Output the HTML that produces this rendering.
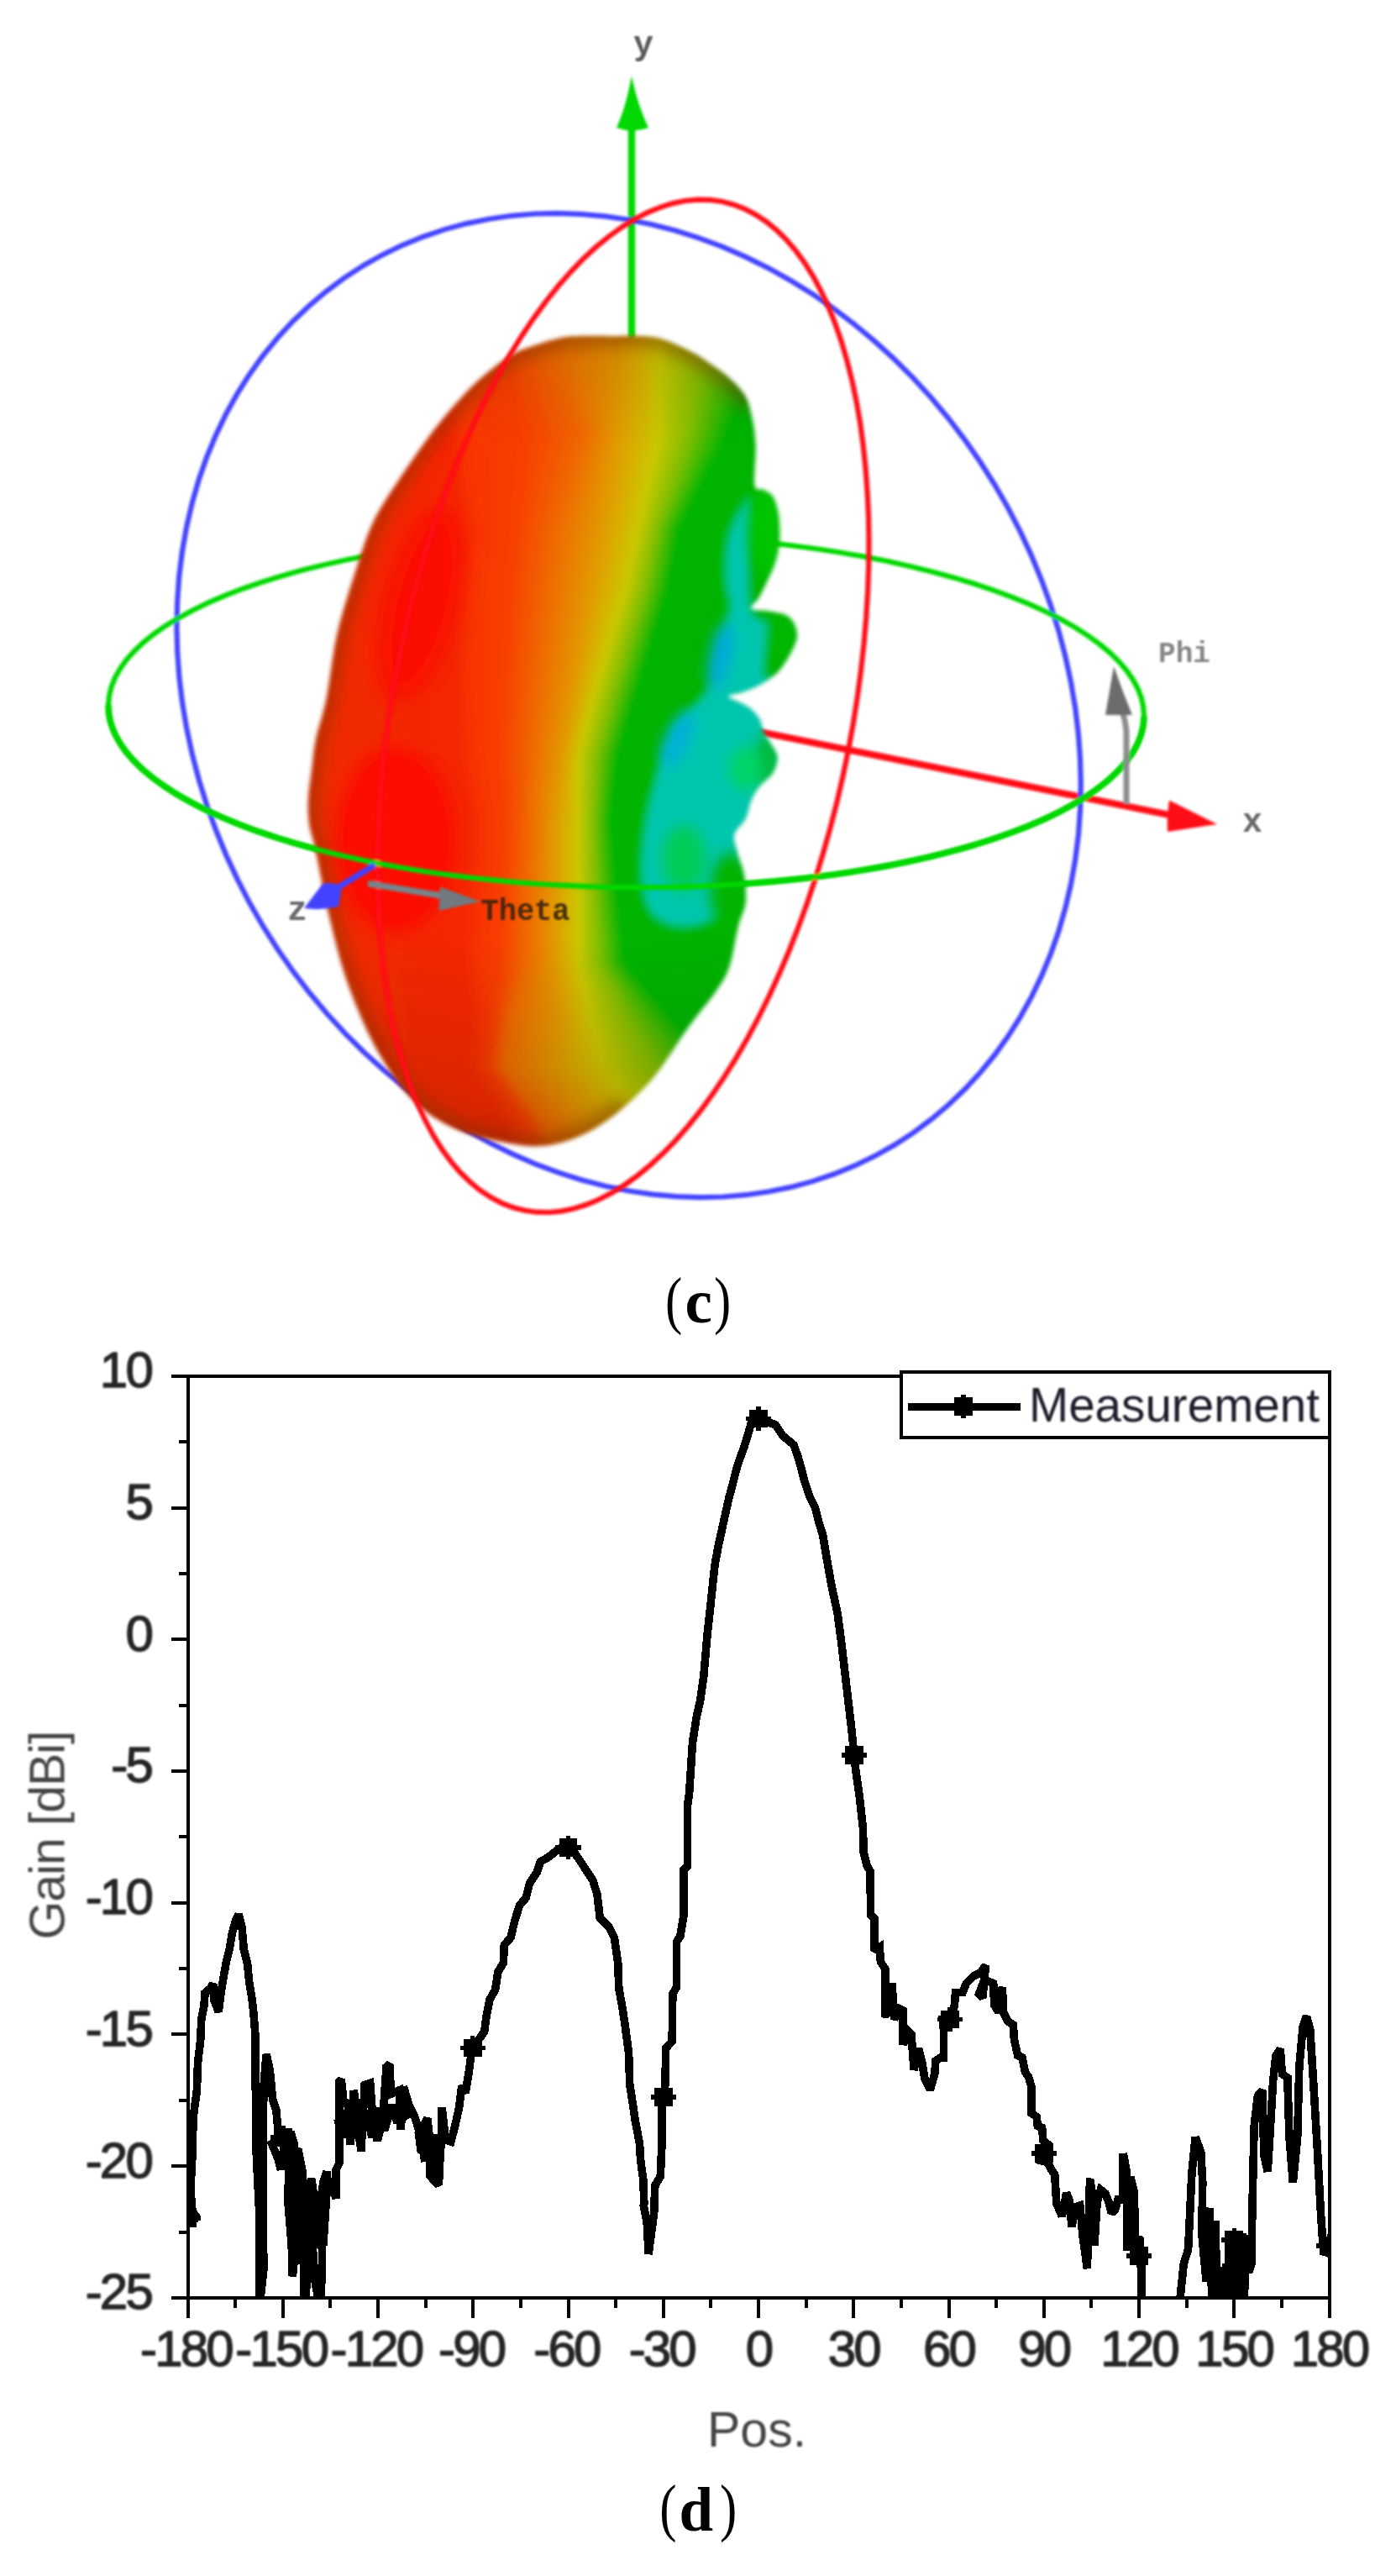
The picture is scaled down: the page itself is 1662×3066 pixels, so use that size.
<!DOCTYPE html><html><head><meta charset="utf-8"><title>Figure</title>
<style>html,body{margin:0;padding:0;background:#fff}body{width:1662px;height:3066px;overflow:hidden}svg{display:block}text{font-family:"Liberation Sans",Arial,sans-serif}</style></head><body>
<svg width="1662" height="3066" viewBox="0 0 1662 3066">
<rect width="1662" height="3066" fill="#fff"/>
<defs><linearGradient id="shT" x1="0" y1="0" x2="0" y2="1"><stop offset="0" stop-color="#402000" stop-opacity="0.13"/><stop offset="1" stop-color="#402000" stop-opacity="0"/></linearGradient><linearGradient id="shB" x1="0" y1="0" x2="0" y2="1"><stop offset="0" stop-color="#402000" stop-opacity="0"/><stop offset="1" stop-color="#402000" stop-opacity="0.2"/></linearGradient><clipPath id="bc"><path d="M725,400 C719.4,400 699.1,399.7 690,400 C680.9,400.3 676,400.4 668,402 C660,403.6 649.6,406.6 640,410 C630.4,413.4 620,415.5 608,423 C596,430.5 578.8,443.9 565,457 C551.2,470.1 535.8,487.7 522,505 C508.2,522.3 491.4,546.4 479,565 C466.6,583.6 453.5,602.4 444.5,621 C435.5,639.6 429.9,659.7 423,681 C416.1,702.3 407,730 401.5,754 C396,778 392.8,810.8 388.7,831 C384.6,851.2 378.8,866.2 376,880 C373.2,893.8 372.4,905.8 371,917 C369.6,928.2 367.5,939.9 367,950 C366.5,960.1 366.7,970.6 368,980 C369.3,989.4 371,990.6 375,1009 C379,1027.4 386.7,1068.9 393,1095 C399.3,1121.1 405.5,1147.2 414.5,1172 C423.5,1196.8 436.6,1227.9 449,1250 C461.4,1272.1 477,1295 492,1310 C507,1325 524.4,1335.8 543,1344 C561.6,1352.2 590.7,1357.9 608,1361 C625.3,1364.1 637.2,1365.2 651,1363.5 C664.8,1361.8 680.2,1357.1 694,1350.6 C707.8,1344.1 723.2,1334 737,1322.7 C750.8,1311.4 767,1295.8 780,1280 C793,1264.2 806.8,1240.2 818.5,1224 C830.2,1207.8 845,1190.8 853,1179 C861,1167.2 864.3,1162.3 868.5,1150 C872.7,1137.7 876,1114 879,1102 C882,1090 886.4,1084.6 887.5,1075 C888.6,1065.4 887.5,1051.6 886,1042 C884.5,1032.4 879.9,1022.8 878,1015 C876.1,1007.2 872.5,1000 874,993.5 C875.5,987 884.3,981 887.5,974.5 C890.7,968 891.7,958.8 894.3,952.7 C896.9,946.6 899.7,941.6 903.8,936.4 C907.9,931.2 916.5,925.7 920,920 C923.5,914.3 925.9,906.6 925.5,901 C925.1,895.4 920,889.6 917.4,884.8 C914.8,880 911.2,875.8 909,871 C906.8,866.2 906.8,859.8 903.8,855 C900.8,850.2 895.9,845.2 890,841 C884.1,836.8 867.8,831.8 867,829 C866.2,826.2 878.5,826 884.8,823.6 C891.1,821.2 900,817.7 906.5,814 C913,810.3 920.3,805.7 925.5,800.5 C930.7,795.3 935.3,788 939,781.5 C942.7,775 947.5,765.9 948.6,759.8 C949.7,753.7 948,747.9 946,743.5 C944,739.1 941,735.1 936.4,732.6 C931.8,730.1 924.1,729 917.4,727.7 C910.7,726.4 896.5,727.2 894.3,724.5 C892.1,721.8 900.5,716.7 903.8,711 C907.1,705.3 911.7,695.6 914.7,689 C917.7,682.4 920.7,676.9 922.8,670 C924.9,663.1 927.3,654.7 928,645.6 C928.7,636.5 928.3,621.7 927,613 C925.7,604.3 922.9,595.8 920,591 C917.1,586.2 912.5,585.1 909,583 C905.5,580.9 899.9,585.9 898.4,577.7 C896.9,569.5 900.1,544.1 899.7,531.5 C899.3,518.9 897.7,508.6 895.7,499 C893.7,489.4 891.9,479.5 887.5,471.7 C883.1,463.9 874.5,455.7 868.5,450 C862.5,444.3 857.3,441 850,436 C842.7,431 834.2,424.2 823,418.7 C811.8,413.2 795.7,404.5 780,401.5 C764.3,398.5 733.8,400.2 725,400 C716.2,399.8 730.6,400 725,400Z"/></clipPath><filter id="b1" x="-5%" y="-5%" width="110%" height="110%"><feGaussianBlur stdDeviation="1.6"/></filter><filter id="b2" x="-10%" y="-10%" width="120%" height="120%"><feGaussianBlur stdDeviation="2.5"/></filter><filter id="b8" x="-30%" y="-30%" width="160%" height="160%"><feGaussianBlur stdDeviation="8"/></filter><filter id="b12" x="-30%" y="-30%" width="160%" height="160%"><feGaussianBlur stdDeviation="12"/></filter><filter id="b5" x="-30%" y="-30%" width="160%" height="160%"><feGaussianBlur stdDeviation="5"/></filter><filter id="bt" x="-10%" y="-30%" width="120%" height="160%"><feGaussianBlur stdDeviation="0.8"/></filter><linearGradient id="r0" gradientUnits="userSpaceOnUse" x1="260.8" y1="0" x2="1124.6" y2="0"><stop offset="0.000" stop-color="#ee3206"/><stop offset="0.287" stop-color="#f52600"/><stop offset="0.315" stop-color="#f83600"/><stop offset="0.387" stop-color="#f84000"/><stop offset="0.457" stop-color="#f06800"/><stop offset="0.551" stop-color="#e29800"/><stop offset="0.578" stop-color="#d8b000"/><stop offset="0.606" stop-color="#c8c800"/><stop offset="0.669" stop-color="#80be00"/><stop offset="0.745" stop-color="#00b400"/><stop offset="1.000" stop-color="#00b200"/></linearGradient><linearGradient id="r1" gradientUnits="userSpaceOnUse" x1="262.3" y1="0" x2="1123.8" y2="0"><stop offset="0.000" stop-color="#ee3206"/><stop offset="0.288" stop-color="#f52600"/><stop offset="0.316" stop-color="#f83600"/><stop offset="0.387" stop-color="#f84000"/><stop offset="0.457" stop-color="#f06800"/><stop offset="0.551" stop-color="#e29800"/><stop offset="0.578" stop-color="#d8b000"/><stop offset="0.606" stop-color="#c8c800"/><stop offset="0.668" stop-color="#80be00"/><stop offset="0.745" stop-color="#00b400"/><stop offset="1.000" stop-color="#00b200"/></linearGradient><linearGradient id="r2" gradientUnits="userSpaceOnUse" x1="263.8" y1="0" x2="1123.1" y2="0"><stop offset="0.000" stop-color="#ee3206"/><stop offset="0.289" stop-color="#f52600"/><stop offset="0.317" stop-color="#f83600"/><stop offset="0.388" stop-color="#f84000"/><stop offset="0.457" stop-color="#f06800"/><stop offset="0.551" stop-color="#e29800"/><stop offset="0.578" stop-color="#d8b000"/><stop offset="0.605" stop-color="#c8c800"/><stop offset="0.668" stop-color="#80be00"/><stop offset="0.744" stop-color="#00b400"/><stop offset="1.000" stop-color="#00b200"/></linearGradient><linearGradient id="r3" gradientUnits="userSpaceOnUse" x1="265.4" y1="0" x2="1122.3" y2="0"><stop offset="0.000" stop-color="#ee3206"/><stop offset="0.289" stop-color="#f52600"/><stop offset="0.317" stop-color="#f83600"/><stop offset="0.388" stop-color="#f84000"/><stop offset="0.458" stop-color="#f06800"/><stop offset="0.550" stop-color="#e29800"/><stop offset="0.578" stop-color="#d8b000"/><stop offset="0.605" stop-color="#c8c800"/><stop offset="0.667" stop-color="#80be00"/><stop offset="0.743" stop-color="#00b400"/><stop offset="1.000" stop-color="#00b200"/></linearGradient><linearGradient id="r4" gradientUnits="userSpaceOnUse" x1="266.9" y1="0" x2="1121.5" y2="0"><stop offset="0.000" stop-color="#ee3206"/><stop offset="0.290" stop-color="#f52600"/><stop offset="0.318" stop-color="#f83600"/><stop offset="0.389" stop-color="#f84000"/><stop offset="0.458" stop-color="#f06800"/><stop offset="0.550" stop-color="#e29800"/><stop offset="0.578" stop-color="#d8b000"/><stop offset="0.605" stop-color="#c8c800"/><stop offset="0.667" stop-color="#80be00"/><stop offset="0.743" stop-color="#00b400"/><stop offset="1.000" stop-color="#00b200"/></linearGradient><linearGradient id="r5" gradientUnits="userSpaceOnUse" x1="268.5" y1="0" x2="1120.8" y2="0"><stop offset="0.000" stop-color="#ee3206"/><stop offset="0.291" stop-color="#f52600"/><stop offset="0.319" stop-color="#f83600"/><stop offset="0.389" stop-color="#f84000"/><stop offset="0.458" stop-color="#f06800"/><stop offset="0.550" stop-color="#e29800"/><stop offset="0.577" stop-color="#d8b000"/><stop offset="0.605" stop-color="#c8c800"/><stop offset="0.667" stop-color="#80be00"/><stop offset="0.742" stop-color="#00b400"/><stop offset="1.000" stop-color="#00b200"/></linearGradient><linearGradient id="r6" gradientUnits="userSpaceOnUse" x1="270" y1="0" x2="1120" y2="0"><stop offset="0.000" stop-color="#ee3206"/><stop offset="0.292" stop-color="#f52600"/><stop offset="0.320" stop-color="#f83600"/><stop offset="0.390" stop-color="#f84000"/><stop offset="0.459" stop-color="#f06800"/><stop offset="0.549" stop-color="#e29800"/><stop offset="0.577" stop-color="#d8b000"/><stop offset="0.605" stop-color="#c8c800"/><stop offset="0.666" stop-color="#80be00"/><stop offset="0.741" stop-color="#00b400"/><stop offset="1.000" stop-color="#00b200"/></linearGradient><linearGradient id="r7" gradientUnits="userSpaceOnUse" x1="271" y1="0" x2="1117.6" y2="0"><stop offset="0.000" stop-color="#ee3206"/><stop offset="0.293" stop-color="#f52600"/><stop offset="0.321" stop-color="#f83600"/><stop offset="0.392" stop-color="#f84000"/><stop offset="0.462" stop-color="#f06800"/><stop offset="0.550" stop-color="#e29800"/><stop offset="0.578" stop-color="#d8b000"/><stop offset="0.606" stop-color="#c8c800"/><stop offset="0.666" stop-color="#80be00"/><stop offset="0.740" stop-color="#00b400"/><stop offset="1.000" stop-color="#00b200"/></linearGradient><linearGradient id="r8" gradientUnits="userSpaceOnUse" x1="272.1" y1="0" x2="1115.3" y2="0"><stop offset="0.000" stop-color="#ee3206"/><stop offset="0.294" stop-color="#f52600"/><stop offset="0.323" stop-color="#f83600"/><stop offset="0.395" stop-color="#f84000"/><stop offset="0.466" stop-color="#f06800"/><stop offset="0.551" stop-color="#e29800"/><stop offset="0.579" stop-color="#d8b000"/><stop offset="0.607" stop-color="#c8c800"/><stop offset="0.667" stop-color="#80be00"/><stop offset="0.739" stop-color="#00b400"/><stop offset="1.000" stop-color="#00b200"/></linearGradient><linearGradient id="r9" gradientUnits="userSpaceOnUse" x1="273.1" y1="0" x2="1112.9" y2="0"><stop offset="0.000" stop-color="#ee3206"/><stop offset="0.295" stop-color="#f52600"/><stop offset="0.324" stop-color="#f83600"/><stop offset="0.397" stop-color="#f84000"/><stop offset="0.469" stop-color="#f06800"/><stop offset="0.551" stop-color="#e29800"/><stop offset="0.580" stop-color="#d8b000"/><stop offset="0.608" stop-color="#c8c800"/><stop offset="0.667" stop-color="#80be00"/><stop offset="0.738" stop-color="#00b400"/><stop offset="1.000" stop-color="#00b200"/></linearGradient><linearGradient id="r10" gradientUnits="userSpaceOnUse" x1="274.2" y1="0" x2="1110.5" y2="0"><stop offset="0.000" stop-color="#ee3206"/><stop offset="0.297" stop-color="#f52600"/><stop offset="0.325" stop-color="#f83600"/><stop offset="0.400" stop-color="#f84000"/><stop offset="0.473" stop-color="#f06800"/><stop offset="0.552" stop-color="#e29800"/><stop offset="0.581" stop-color="#d8b000"/><stop offset="0.610" stop-color="#c8c800"/><stop offset="0.667" stop-color="#80be00"/><stop offset="0.737" stop-color="#00b400"/><stop offset="1.000" stop-color="#00b200"/></linearGradient><linearGradient id="r11" gradientUnits="userSpaceOnUse" x1="275.2" y1="0" x2="1108.1" y2="0"><stop offset="0.000" stop-color="#ee3206"/><stop offset="0.298" stop-color="#f52600"/><stop offset="0.327" stop-color="#f83600"/><stop offset="0.402" stop-color="#f84000"/><stop offset="0.476" stop-color="#f06800"/><stop offset="0.553" stop-color="#e29800"/><stop offset="0.582" stop-color="#d8b000"/><stop offset="0.611" stop-color="#c8c800"/><stop offset="0.667" stop-color="#80be00"/><stop offset="0.736" stop-color="#00b400"/><stop offset="1.000" stop-color="#00b200"/></linearGradient><linearGradient id="r12" gradientUnits="userSpaceOnUse" x1="276.3" y1="0" x2="1105.8" y2="0"><stop offset="0.000" stop-color="#ee3206"/><stop offset="0.299" stop-color="#f52600"/><stop offset="0.328" stop-color="#f83600"/><stop offset="0.405" stop-color="#f84000"/><stop offset="0.480" stop-color="#f06800"/><stop offset="0.553" stop-color="#e29800"/><stop offset="0.583" stop-color="#d8b000"/><stop offset="0.612" stop-color="#c8c800"/><stop offset="0.667" stop-color="#80be00"/><stop offset="0.735" stop-color="#00b400"/><stop offset="1.000" stop-color="#00b200"/></linearGradient><linearGradient id="r13" gradientUnits="userSpaceOnUse" x1="277.3" y1="0" x2="1103.4" y2="0"><stop offset="0.000" stop-color="#ee3206"/><stop offset="0.300" stop-color="#f52600"/><stop offset="0.329" stop-color="#f83600"/><stop offset="0.407" stop-color="#f84000"/><stop offset="0.483" stop-color="#f06800"/><stop offset="0.554" stop-color="#e29800"/><stop offset="0.584" stop-color="#d8b000"/><stop offset="0.613" stop-color="#c8c800"/><stop offset="0.668" stop-color="#80be00"/><stop offset="0.734" stop-color="#00b400"/><stop offset="1.000" stop-color="#00b200"/></linearGradient><linearGradient id="r14" gradientUnits="userSpaceOnUse" x1="278.4" y1="0" x2="1101" y2="0"><stop offset="0.000" stop-color="#ee3206"/><stop offset="0.301" stop-color="#f52600"/><stop offset="0.331" stop-color="#f83600"/><stop offset="0.410" stop-color="#f84000"/><stop offset="0.487" stop-color="#f06800"/><stop offset="0.554" stop-color="#e29800"/><stop offset="0.585" stop-color="#d8b000"/><stop offset="0.615" stop-color="#c8c800"/><stop offset="0.668" stop-color="#80be00"/><stop offset="0.733" stop-color="#00b400"/><stop offset="1.000" stop-color="#00b200"/></linearGradient><linearGradient id="r15" gradientUnits="userSpaceOnUse" x1="279.4" y1="0" x2="1098.7" y2="0"><stop offset="0.000" stop-color="#ee3206"/><stop offset="0.303" stop-color="#f52600"/><stop offset="0.332" stop-color="#f83600"/><stop offset="0.413" stop-color="#f84000"/><stop offset="0.491" stop-color="#f06800"/><stop offset="0.555" stop-color="#e29800"/><stop offset="0.586" stop-color="#d8b000"/><stop offset="0.616" stop-color="#c8c800"/><stop offset="0.668" stop-color="#80be00"/><stop offset="0.731" stop-color="#00b400"/><stop offset="1.000" stop-color="#00b200"/></linearGradient><linearGradient id="r16" gradientUnits="userSpaceOnUse" x1="280.5" y1="0" x2="1096.3" y2="0"><stop offset="0.000" stop-color="#ee3206"/><stop offset="0.304" stop-color="#f52600"/><stop offset="0.333" stop-color="#f83600"/><stop offset="0.415" stop-color="#f84000"/><stop offset="0.494" stop-color="#f06800"/><stop offset="0.556" stop-color="#e29800"/><stop offset="0.586" stop-color="#d8b000"/><stop offset="0.617" stop-color="#c8c800"/><stop offset="0.668" stop-color="#80be00"/><stop offset="0.730" stop-color="#00b400"/><stop offset="1.000" stop-color="#00b200"/></linearGradient><linearGradient id="r17" gradientUnits="userSpaceOnUse" x1="281.5" y1="0" x2="1093.9" y2="0"><stop offset="0.000" stop-color="#ee3206"/><stop offset="0.305" stop-color="#f52600"/><stop offset="0.335" stop-color="#f83600"/><stop offset="0.418" stop-color="#f84000"/><stop offset="0.498" stop-color="#f06800"/><stop offset="0.556" stop-color="#e29800"/><stop offset="0.587" stop-color="#d8b000"/><stop offset="0.619" stop-color="#c8c800"/><stop offset="0.668" stop-color="#80be00"/><stop offset="0.729" stop-color="#00b400"/><stop offset="1.000" stop-color="#00b200"/></linearGradient><linearGradient id="r18" gradientUnits="userSpaceOnUse" x1="282.6" y1="0" x2="1091.5" y2="0"><stop offset="0.000" stop-color="#ee3206"/><stop offset="0.307" stop-color="#f52600"/><stop offset="0.336" stop-color="#f83600"/><stop offset="0.421" stop-color="#f84000"/><stop offset="0.502" stop-color="#f06800"/><stop offset="0.557" stop-color="#e29800"/><stop offset="0.588" stop-color="#d8b000"/><stop offset="0.620" stop-color="#c8c800"/><stop offset="0.669" stop-color="#80be00"/><stop offset="0.728" stop-color="#00b400"/><stop offset="1.000" stop-color="#00b200"/></linearGradient><linearGradient id="r19" gradientUnits="userSpaceOnUse" x1="283.6" y1="0" x2="1089.2" y2="0"><stop offset="0.000" stop-color="#ee3206"/><stop offset="0.308" stop-color="#f52600"/><stop offset="0.338" stop-color="#f83600"/><stop offset="0.423" stop-color="#f84000"/><stop offset="0.506" stop-color="#f06800"/><stop offset="0.558" stop-color="#e29800"/><stop offset="0.589" stop-color="#d8b000"/><stop offset="0.621" stop-color="#c8c800"/><stop offset="0.669" stop-color="#80be00"/><stop offset="0.727" stop-color="#00b400"/><stop offset="1.000" stop-color="#00b200"/></linearGradient><linearGradient id="r20" gradientUnits="userSpaceOnUse" x1="284.7" y1="0" x2="1086.8" y2="0"><stop offset="0.000" stop-color="#ee3206"/><stop offset="0.309" stop-color="#f52600"/><stop offset="0.339" stop-color="#f83600"/><stop offset="0.426" stop-color="#f84000"/><stop offset="0.509" stop-color="#f06800"/><stop offset="0.558" stop-color="#e29800"/><stop offset="0.590" stop-color="#d8b000"/><stop offset="0.623" stop-color="#c8c800"/><stop offset="0.669" stop-color="#80be00"/><stop offset="0.726" stop-color="#00b400"/><stop offset="1.000" stop-color="#00b200"/></linearGradient><linearGradient id="r21" gradientUnits="userSpaceOnUse" x1="285.5" y1="0" x2="1084" y2="0"><stop offset="0.000" stop-color="#ee3206"/><stop offset="0.311" stop-color="#f52600"/><stop offset="0.341" stop-color="#f83600"/><stop offset="0.427" stop-color="#f84000"/><stop offset="0.510" stop-color="#f06800"/><stop offset="0.559" stop-color="#e29800"/><stop offset="0.591" stop-color="#d8b000"/><stop offset="0.623" stop-color="#c8c800"/><stop offset="0.669" stop-color="#80be00"/><stop offset="0.724" stop-color="#00b400"/><stop offset="1.000" stop-color="#00b200"/></linearGradient><linearGradient id="r22" gradientUnits="userSpaceOnUse" x1="286.2" y1="0" x2="1081" y2="0"><stop offset="0.000" stop-color="#ee3206"/><stop offset="0.312" stop-color="#f52600"/><stop offset="0.342" stop-color="#f83600"/><stop offset="0.427" stop-color="#f84000"/><stop offset="0.509" stop-color="#f06800"/><stop offset="0.560" stop-color="#e29800"/><stop offset="0.592" stop-color="#d8b000"/><stop offset="0.624" stop-color="#c8c800"/><stop offset="0.668" stop-color="#80be00"/><stop offset="0.723" stop-color="#00b400"/><stop offset="1.000" stop-color="#00b200"/></linearGradient><linearGradient id="r23" gradientUnits="userSpaceOnUse" x1="287" y1="0" x2="1078" y2="0"><stop offset="0.000" stop-color="#ee3206"/><stop offset="0.314" stop-color="#f52600"/><stop offset="0.344" stop-color="#f83600"/><stop offset="0.427" stop-color="#f84000"/><stop offset="0.508" stop-color="#f06800"/><stop offset="0.560" stop-color="#e29800"/><stop offset="0.592" stop-color="#d8b000"/><stop offset="0.624" stop-color="#c8c800"/><stop offset="0.668" stop-color="#80be00"/><stop offset="0.722" stop-color="#00b400"/><stop offset="1.000" stop-color="#00b200"/></linearGradient><linearGradient id="r24" gradientUnits="userSpaceOnUse" x1="287.8" y1="0" x2="1075" y2="0"><stop offset="0.000" stop-color="#ee3206"/><stop offset="0.315" stop-color="#f52600"/><stop offset="0.346" stop-color="#f83600"/><stop offset="0.427" stop-color="#f84000"/><stop offset="0.507" stop-color="#f06800"/><stop offset="0.561" stop-color="#e29800"/><stop offset="0.593" stop-color="#d8b000"/><stop offset="0.624" stop-color="#c8c800"/><stop offset="0.668" stop-color="#80be00"/><stop offset="0.721" stop-color="#00b400"/><stop offset="1.000" stop-color="#00b200"/></linearGradient><linearGradient id="r25" gradientUnits="userSpaceOnUse" x1="288.5" y1="0" x2="1072" y2="0"><stop offset="0.000" stop-color="#ee3206"/><stop offset="0.317" stop-color="#f52600"/><stop offset="0.347" stop-color="#f83600"/><stop offset="0.428" stop-color="#f84000"/><stop offset="0.506" stop-color="#f06800"/><stop offset="0.561" stop-color="#e29800"/><stop offset="0.593" stop-color="#d8b000"/><stop offset="0.625" stop-color="#c8c800"/><stop offset="0.667" stop-color="#80be00"/><stop offset="0.719" stop-color="#00b400"/><stop offset="1.000" stop-color="#00b200"/></linearGradient><linearGradient id="r26" gradientUnits="userSpaceOnUse" x1="289.2" y1="0" x2="1069" y2="0"><stop offset="0.000" stop-color="#ee3206"/><stop offset="0.318" stop-color="#f52600"/><stop offset="0.349" stop-color="#f83600"/><stop offset="0.428" stop-color="#f84000"/><stop offset="0.505" stop-color="#f06800"/><stop offset="0.562" stop-color="#e29800"/><stop offset="0.593" stop-color="#d8b000"/><stop offset="0.625" stop-color="#c8c800"/><stop offset="0.667" stop-color="#80be00"/><stop offset="0.718" stop-color="#00b400"/><stop offset="1.000" stop-color="#00b200"/></linearGradient><linearGradient id="r27" gradientUnits="userSpaceOnUse" x1="290" y1="0" x2="1066" y2="0"><stop offset="0.000" stop-color="#ee3206"/><stop offset="0.320" stop-color="#f52600"/><stop offset="0.351" stop-color="#f83600"/><stop offset="0.428" stop-color="#f84000"/><stop offset="0.504" stop-color="#f06800"/><stop offset="0.562" stop-color="#e29800"/><stop offset="0.594" stop-color="#d8b000"/><stop offset="0.626" stop-color="#c8c800"/><stop offset="0.666" stop-color="#80be00"/><stop offset="0.716" stop-color="#00b400"/><stop offset="1.000" stop-color="#00b200"/></linearGradient><linearGradient id="r28" gradientUnits="userSpaceOnUse" x1="290.8" y1="0" x2="1063" y2="0"><stop offset="0.000" stop-color="#ee3206"/><stop offset="0.321" stop-color="#f52600"/><stop offset="0.352" stop-color="#f83600"/><stop offset="0.428" stop-color="#f84000"/><stop offset="0.503" stop-color="#f06800"/><stop offset="0.563" stop-color="#e29800"/><stop offset="0.594" stop-color="#d8b000"/><stop offset="0.626" stop-color="#c8c800"/><stop offset="0.666" stop-color="#80be00"/><stop offset="0.715" stop-color="#00b400"/><stop offset="1.000" stop-color="#00b200"/></linearGradient><linearGradient id="r29" gradientUnits="userSpaceOnUse" x1="291.5" y1="0" x2="1060" y2="0"><stop offset="0.000" stop-color="#ee3206"/><stop offset="0.323" stop-color="#f52600"/><stop offset="0.354" stop-color="#f83600"/><stop offset="0.428" stop-color="#f84000"/><stop offset="0.502" stop-color="#f06800"/><stop offset="0.564" stop-color="#e29800"/><stop offset="0.595" stop-color="#d8b000"/><stop offset="0.626" stop-color="#c8c800"/><stop offset="0.666" stop-color="#80be00"/><stop offset="0.714" stop-color="#00b400"/><stop offset="1.000" stop-color="#00b200"/></linearGradient><linearGradient id="r30" gradientUnits="userSpaceOnUse" x1="292.2" y1="0" x2="1057" y2="0"><stop offset="0.000" stop-color="#ee3206"/><stop offset="0.324" stop-color="#f52600"/><stop offset="0.356" stop-color="#f83600"/><stop offset="0.429" stop-color="#f84000"/><stop offset="0.501" stop-color="#f06800"/><stop offset="0.564" stop-color="#e29800"/><stop offset="0.595" stop-color="#d8b000"/><stop offset="0.627" stop-color="#c8c800"/><stop offset="0.665" stop-color="#80be00"/><stop offset="0.712" stop-color="#00b400"/><stop offset="1.000" stop-color="#00b200"/></linearGradient><linearGradient id="r31" gradientUnits="userSpaceOnUse" x1="293" y1="0" x2="1053.9" y2="0"><stop offset="0.000" stop-color="#ee3206"/><stop offset="0.326" stop-color="#f52600"/><stop offset="0.357" stop-color="#f83600"/><stop offset="0.429" stop-color="#f84000"/><stop offset="0.500" stop-color="#f06800"/><stop offset="0.565" stop-color="#e29800"/><stop offset="0.596" stop-color="#d8b000"/><stop offset="0.627" stop-color="#c8c800"/><stop offset="0.665" stop-color="#80be00"/><stop offset="0.711" stop-color="#00b400"/><stop offset="1.000" stop-color="#00b200"/></linearGradient><linearGradient id="r32" gradientUnits="userSpaceOnUse" x1="293.7" y1="0" x2="1050.7" y2="0"><stop offset="0.000" stop-color="#ee3206"/><stop offset="0.328" stop-color="#f52600"/><stop offset="0.359" stop-color="#f83600"/><stop offset="0.429" stop-color="#f84000"/><stop offset="0.500" stop-color="#f06800"/><stop offset="0.565" stop-color="#e29800"/><stop offset="0.597" stop-color="#d8b000"/><stop offset="0.628" stop-color="#c8c800"/><stop offset="0.665" stop-color="#80be00"/><stop offset="0.709" stop-color="#00b400"/><stop offset="1.000" stop-color="#00b200"/></linearGradient><linearGradient id="r33" gradientUnits="userSpaceOnUse" x1="294.4" y1="0" x2="1047.6" y2="0"><stop offset="0.000" stop-color="#ee3206"/><stop offset="0.329" stop-color="#f52600"/><stop offset="0.361" stop-color="#f83600"/><stop offset="0.430" stop-color="#f84000"/><stop offset="0.499" stop-color="#f06800"/><stop offset="0.566" stop-color="#e29800"/><stop offset="0.597" stop-color="#d8b000"/><stop offset="0.628" stop-color="#c8c800"/><stop offset="0.664" stop-color="#80be00"/><stop offset="0.708" stop-color="#00b400"/><stop offset="1.000" stop-color="#00b200"/></linearGradient><linearGradient id="r34" gradientUnits="userSpaceOnUse" x1="295.1" y1="0" x2="1044.5" y2="0"><stop offset="0.000" stop-color="#ee3206"/><stop offset="0.331" stop-color="#f52600"/><stop offset="0.363" stop-color="#f83600"/><stop offset="0.430" stop-color="#f84000"/><stop offset="0.498" stop-color="#f06800"/><stop offset="0.567" stop-color="#e29800"/><stop offset="0.598" stop-color="#d8b000"/><stop offset="0.629" stop-color="#c8c800"/><stop offset="0.664" stop-color="#80be00"/><stop offset="0.706" stop-color="#00b400"/><stop offset="1.000" stop-color="#00b200"/></linearGradient><linearGradient id="r35" gradientUnits="userSpaceOnUse" x1="295.9" y1="0" x2="1041.4" y2="0"><stop offset="0.000" stop-color="#ee3206"/><stop offset="0.333" stop-color="#f52600"/><stop offset="0.365" stop-color="#f83600"/><stop offset="0.430" stop-color="#f84000"/><stop offset="0.497" stop-color="#f06800"/><stop offset="0.567" stop-color="#e29800"/><stop offset="0.598" stop-color="#d8b000"/><stop offset="0.630" stop-color="#c8c800"/><stop offset="0.663" stop-color="#80be00"/><stop offset="0.705" stop-color="#00b400"/><stop offset="1.000" stop-color="#00b200"/></linearGradient><linearGradient id="r36" gradientUnits="userSpaceOnUse" x1="296.6" y1="0" x2="1038.3" y2="0"><stop offset="0.000" stop-color="#ee3206"/><stop offset="0.334" stop-color="#f52600"/><stop offset="0.367" stop-color="#f83600"/><stop offset="0.431" stop-color="#f84000"/><stop offset="0.496" stop-color="#f06800"/><stop offset="0.568" stop-color="#e29800"/><stop offset="0.599" stop-color="#d8b000"/><stop offset="0.630" stop-color="#c8c800"/><stop offset="0.663" stop-color="#80be00"/><stop offset="0.703" stop-color="#00b400"/><stop offset="1.000" stop-color="#00b200"/></linearGradient><linearGradient id="r37" gradientUnits="userSpaceOnUse" x1="297.3" y1="0" x2="1035.2" y2="0"><stop offset="0.000" stop-color="#ee3206"/><stop offset="0.336" stop-color="#f52600"/><stop offset="0.369" stop-color="#f83600"/><stop offset="0.431" stop-color="#f84000"/><stop offset="0.496" stop-color="#f06800"/><stop offset="0.568" stop-color="#e29800"/><stop offset="0.599" stop-color="#d8b000"/><stop offset="0.631" stop-color="#c8c800"/><stop offset="0.663" stop-color="#80be00"/><stop offset="0.702" stop-color="#00b400"/><stop offset="1.000" stop-color="#00b200"/></linearGradient><linearGradient id="r38" gradientUnits="userSpaceOnUse" x1="298" y1="0" x2="1032.1" y2="0"><stop offset="0.000" stop-color="#ee3206"/><stop offset="0.338" stop-color="#f52600"/><stop offset="0.371" stop-color="#f83600"/><stop offset="0.431" stop-color="#f84000"/><stop offset="0.495" stop-color="#f06800"/><stop offset="0.569" stop-color="#e29800"/><stop offset="0.600" stop-color="#d8b000"/><stop offset="0.631" stop-color="#c8c800"/><stop offset="0.662" stop-color="#80be00"/><stop offset="0.700" stop-color="#00b400"/><stop offset="1.000" stop-color="#00b200"/></linearGradient><linearGradient id="r39" gradientUnits="userSpaceOnUse" x1="298.3" y1="0" x2="1029.6" y2="0"><stop offset="0.000" stop-color="#ee3206"/><stop offset="0.339" stop-color="#f52600"/><stop offset="0.372" stop-color="#f83600"/><stop offset="0.432" stop-color="#f84000"/><stop offset="0.494" stop-color="#f06800"/><stop offset="0.569" stop-color="#e29800"/><stop offset="0.600" stop-color="#d8b000"/><stop offset="0.631" stop-color="#c8c800"/><stop offset="0.662" stop-color="#80be00"/><stop offset="0.699" stop-color="#00b400"/><stop offset="1.000" stop-color="#00b200"/></linearGradient><linearGradient id="r40" gradientUnits="userSpaceOnUse" x1="297.8" y1="0" x2="1028.5" y2="0"><stop offset="0.000" stop-color="#ee3206"/><stop offset="0.339" stop-color="#f52600"/><stop offset="0.372" stop-color="#f83600"/><stop offset="0.432" stop-color="#f84000"/><stop offset="0.494" stop-color="#f06800"/><stop offset="0.569" stop-color="#e29800"/><stop offset="0.600" stop-color="#d8b000"/><stop offset="0.631" stop-color="#c8c800"/><stop offset="0.662" stop-color="#80be00"/><stop offset="0.699" stop-color="#00b400"/><stop offset="1.000" stop-color="#00b200"/></linearGradient><linearGradient id="r41" gradientUnits="userSpaceOnUse" x1="297.2" y1="0" x2="1027.4" y2="0"><stop offset="0.000" stop-color="#ee3206"/><stop offset="0.340" stop-color="#f52600"/><stop offset="0.372" stop-color="#f83600"/><stop offset="0.432" stop-color="#f84000"/><stop offset="0.494" stop-color="#f06800"/><stop offset="0.569" stop-color="#e29800"/><stop offset="0.599" stop-color="#d8b000"/><stop offset="0.630" stop-color="#c8c800"/><stop offset="0.661" stop-color="#80be00"/><stop offset="0.699" stop-color="#00b400"/><stop offset="1.000" stop-color="#00b200"/></linearGradient><linearGradient id="r42" gradientUnits="userSpaceOnUse" x1="296.7" y1="0" x2="1026.3" y2="0"><stop offset="0.000" stop-color="#ee3206"/><stop offset="0.340" stop-color="#f52600"/><stop offset="0.373" stop-color="#f83600"/><stop offset="0.432" stop-color="#f84000"/><stop offset="0.494" stop-color="#f06800"/><stop offset="0.568" stop-color="#e29800"/><stop offset="0.599" stop-color="#d8b000"/><stop offset="0.630" stop-color="#c8c800"/><stop offset="0.661" stop-color="#80be00"/><stop offset="0.698" stop-color="#00b400"/><stop offset="1.000" stop-color="#00b200"/></linearGradient><linearGradient id="r43" gradientUnits="userSpaceOnUse" x1="296.1" y1="0" x2="1025.2" y2="0"><stop offset="0.000" stop-color="#ee3206"/><stop offset="0.340" stop-color="#f52600"/><stop offset="0.373" stop-color="#f83600"/><stop offset="0.432" stop-color="#f84000"/><stop offset="0.495" stop-color="#f06800"/><stop offset="0.568" stop-color="#e29800"/><stop offset="0.599" stop-color="#d8b000"/><stop offset="0.629" stop-color="#c8c800"/><stop offset="0.660" stop-color="#80be00"/><stop offset="0.698" stop-color="#00b400"/><stop offset="1.000" stop-color="#00b200"/></linearGradient><linearGradient id="r44" gradientUnits="userSpaceOnUse" x1="295.6" y1="0" x2="1024.1" y2="0"><stop offset="0.000" stop-color="#ee3206"/><stop offset="0.340" stop-color="#f52600"/><stop offset="0.373" stop-color="#f83600"/><stop offset="0.433" stop-color="#f84000"/><stop offset="0.495" stop-color="#f06800"/><stop offset="0.568" stop-color="#e29800"/><stop offset="0.598" stop-color="#d8b000"/><stop offset="0.629" stop-color="#c8c800"/><stop offset="0.660" stop-color="#80be00"/><stop offset="0.698" stop-color="#00b400"/><stop offset="1.000" stop-color="#00b200"/></linearGradient><linearGradient id="r45" gradientUnits="userSpaceOnUse" x1="295" y1="0" x2="1023" y2="0"><stop offset="0.000" stop-color="#ee3206"/><stop offset="0.341" stop-color="#f52600"/><stop offset="0.374" stop-color="#f83600"/><stop offset="0.433" stop-color="#f84000"/><stop offset="0.495" stop-color="#f06800"/><stop offset="0.567" stop-color="#e29800"/><stop offset="0.598" stop-color="#d8b000"/><stop offset="0.628" stop-color="#c8c800"/><stop offset="0.660" stop-color="#80be00"/><stop offset="0.698" stop-color="#00b400"/><stop offset="1.000" stop-color="#00b200"/></linearGradient><linearGradient id="r46" gradientUnits="userSpaceOnUse" x1="294.5" y1="0" x2="1021.9" y2="0"><stop offset="0.000" stop-color="#ee3206"/><stop offset="0.341" stop-color="#f52600"/><stop offset="0.374" stop-color="#f83600"/><stop offset="0.433" stop-color="#f84000"/><stop offset="0.495" stop-color="#f06800"/><stop offset="0.567" stop-color="#e29800"/><stop offset="0.597" stop-color="#d8b000"/><stop offset="0.628" stop-color="#c8c800"/><stop offset="0.659" stop-color="#80be00"/><stop offset="0.698" stop-color="#00b400"/><stop offset="1.000" stop-color="#00b200"/></linearGradient><linearGradient id="r47" gradientUnits="userSpaceOnUse" x1="293.9" y1="0" x2="1020.8" y2="0"><stop offset="0.000" stop-color="#ee3206"/><stop offset="0.341" stop-color="#f52600"/><stop offset="0.374" stop-color="#f83600"/><stop offset="0.433" stop-color="#f84000"/><stop offset="0.495" stop-color="#f06800"/><stop offset="0.567" stop-color="#e29800"/><stop offset="0.597" stop-color="#d8b000"/><stop offset="0.627" stop-color="#c8c800"/><stop offset="0.659" stop-color="#80be00"/><stop offset="0.697" stop-color="#00b400"/><stop offset="1.000" stop-color="#00b200"/></linearGradient><linearGradient id="r48" gradientUnits="userSpaceOnUse" x1="293.4" y1="0" x2="1019.7" y2="0"><stop offset="0.000" stop-color="#ee3206"/><stop offset="0.341" stop-color="#f52600"/><stop offset="0.374" stop-color="#f83600"/><stop offset="0.433" stop-color="#f84000"/><stop offset="0.495" stop-color="#f06800"/><stop offset="0.566" stop-color="#e29800"/><stop offset="0.597" stop-color="#d8b000"/><stop offset="0.627" stop-color="#c8c800"/><stop offset="0.658" stop-color="#80be00"/><stop offset="0.697" stop-color="#00b400"/><stop offset="1.000" stop-color="#00b200"/></linearGradient><linearGradient id="r49" gradientUnits="userSpaceOnUse" x1="292.8" y1="0" x2="1018.6" y2="0"><stop offset="0.000" stop-color="#ee3206"/><stop offset="0.342" stop-color="#f52600"/><stop offset="0.375" stop-color="#f83600"/><stop offset="0.433" stop-color="#f84000"/><stop offset="0.495" stop-color="#f06800"/><stop offset="0.566" stop-color="#e29800"/><stop offset="0.596" stop-color="#d8b000"/><stop offset="0.626" stop-color="#c8c800"/><stop offset="0.658" stop-color="#80be00"/><stop offset="0.697" stop-color="#00b400"/><stop offset="1.000" stop-color="#00b200"/></linearGradient><linearGradient id="r50" gradientUnits="userSpaceOnUse" x1="292.3" y1="0" x2="1017.5" y2="0"><stop offset="0.000" stop-color="#ee3206"/><stop offset="0.342" stop-color="#f52600"/><stop offset="0.375" stop-color="#f83600"/><stop offset="0.434" stop-color="#f84000"/><stop offset="0.495" stop-color="#f06800"/><stop offset="0.566" stop-color="#e29800"/><stop offset="0.596" stop-color="#d8b000"/><stop offset="0.626" stop-color="#c8c800"/><stop offset="0.658" stop-color="#80be00"/><stop offset="0.697" stop-color="#00b400"/><stop offset="1.000" stop-color="#00b200"/></linearGradient><linearGradient id="r51" gradientUnits="userSpaceOnUse" x1="292" y1="0" x2="1016.1" y2="0"><stop offset="0.000" stop-color="#ee3206"/><stop offset="0.342" stop-color="#f52600"/><stop offset="0.376" stop-color="#f83600"/><stop offset="0.434" stop-color="#f84000"/><stop offset="0.495" stop-color="#f06800"/><stop offset="0.566" stop-color="#e29800"/><stop offset="0.595" stop-color="#d8b000"/><stop offset="0.625" stop-color="#c8c800"/><stop offset="0.657" stop-color="#80be00"/><stop offset="0.696" stop-color="#00b400"/><stop offset="1.000" stop-color="#00b200"/></linearGradient><linearGradient id="r52" gradientUnits="userSpaceOnUse" x1="292" y1="0" x2="1014.3" y2="0"><stop offset="0.000" stop-color="#ee3206"/><stop offset="0.343" stop-color="#f52600"/><stop offset="0.377" stop-color="#f83600"/><stop offset="0.435" stop-color="#f84000"/><stop offset="0.496" stop-color="#f06800"/><stop offset="0.566" stop-color="#e29800"/><stop offset="0.595" stop-color="#d8b000"/><stop offset="0.624" stop-color="#c8c800"/><stop offset="0.656" stop-color="#80be00"/><stop offset="0.695" stop-color="#00b400"/><stop offset="1.000" stop-color="#00b200"/></linearGradient><linearGradient id="r53" gradientUnits="userSpaceOnUse" x1="292" y1="0" x2="1012.5" y2="0"><stop offset="0.000" stop-color="#ee3206"/><stop offset="0.344" stop-color="#f52600"/><stop offset="0.378" stop-color="#f83600"/><stop offset="0.435" stop-color="#f84000"/><stop offset="0.496" stop-color="#f06800"/><stop offset="0.566" stop-color="#e29800"/><stop offset="0.594" stop-color="#d8b000"/><stop offset="0.623" stop-color="#c8c800"/><stop offset="0.655" stop-color="#80be00"/><stop offset="0.695" stop-color="#00b400"/><stop offset="1.000" stop-color="#00b200"/></linearGradient><linearGradient id="r54" gradientUnits="userSpaceOnUse" x1="292" y1="0" x2="1010.7" y2="0"><stop offset="0.000" stop-color="#ee3206"/><stop offset="0.345" stop-color="#f52600"/><stop offset="0.378" stop-color="#f83600"/><stop offset="0.436" stop-color="#f84000"/><stop offset="0.497" stop-color="#f06800"/><stop offset="0.566" stop-color="#e29800"/><stop offset="0.594" stop-color="#d8b000"/><stop offset="0.622" stop-color="#c8c800"/><stop offset="0.654" stop-color="#80be00"/><stop offset="0.694" stop-color="#00b400"/><stop offset="1.000" stop-color="#00b200"/></linearGradient><linearGradient id="r55" gradientUnits="userSpaceOnUse" x1="292" y1="0" x2="1008.8" y2="0"><stop offset="0.000" stop-color="#ee3206"/><stop offset="0.346" stop-color="#f52600"/><stop offset="0.379" stop-color="#f83600"/><stop offset="0.437" stop-color="#f84000"/><stop offset="0.497" stop-color="#f06800"/><stop offset="0.566" stop-color="#e29800"/><stop offset="0.594" stop-color="#d8b000"/><stop offset="0.621" stop-color="#c8c800"/><stop offset="0.654" stop-color="#80be00"/><stop offset="0.693" stop-color="#00b400"/><stop offset="1.000" stop-color="#00b200"/></linearGradient><linearGradient id="r56" gradientUnits="userSpaceOnUse" x1="292" y1="0" x2="1007" y2="0"><stop offset="0.000" stop-color="#ee3206"/><stop offset="0.347" stop-color="#f52600"/><stop offset="0.380" stop-color="#f83600"/><stop offset="0.437" stop-color="#f84000"/><stop offset="0.497" stop-color="#f06800"/><stop offset="0.566" stop-color="#e29800"/><stop offset="0.593" stop-color="#d8b000"/><stop offset="0.620" stop-color="#c8c800"/><stop offset="0.653" stop-color="#80be00"/><stop offset="0.692" stop-color="#00b400"/><stop offset="1.000" stop-color="#00b200"/></linearGradient><linearGradient id="r57" gradientUnits="userSpaceOnUse" x1="292" y1="0" x2="1005.2" y2="0"><stop offset="0.000" stop-color="#ee3206"/><stop offset="0.348" stop-color="#f52600"/><stop offset="0.381" stop-color="#f83600"/><stop offset="0.438" stop-color="#f84000"/><stop offset="0.498" stop-color="#f06800"/><stop offset="0.566" stop-color="#e29800"/><stop offset="0.593" stop-color="#d8b000"/><stop offset="0.619" stop-color="#c8c800"/><stop offset="0.652" stop-color="#80be00"/><stop offset="0.692" stop-color="#00b400"/><stop offset="1.000" stop-color="#00b200"/></linearGradient><linearGradient id="r58" gradientUnits="userSpaceOnUse" x1="292" y1="0" x2="1003.4" y2="0"><stop offset="0.000" stop-color="#ee3206"/><stop offset="0.349" stop-color="#f52600"/><stop offset="0.382" stop-color="#f83600"/><stop offset="0.439" stop-color="#f84000"/><stop offset="0.498" stop-color="#f06800"/><stop offset="0.566" stop-color="#e29800"/><stop offset="0.592" stop-color="#d8b000"/><stop offset="0.618" stop-color="#c8c800"/><stop offset="0.651" stop-color="#80be00"/><stop offset="0.691" stop-color="#00b400"/><stop offset="1.000" stop-color="#00b200"/></linearGradient><linearGradient id="r59" gradientUnits="userSpaceOnUse" x1="292" y1="0" x2="1001.6" y2="0"><stop offset="0.000" stop-color="#ee3206"/><stop offset="0.350" stop-color="#f52600"/><stop offset="0.383" stop-color="#f83600"/><stop offset="0.439" stop-color="#f84000"/><stop offset="0.499" stop-color="#f06800"/><stop offset="0.566" stop-color="#e29800"/><stop offset="0.592" stop-color="#d8b000"/><stop offset="0.617" stop-color="#c8c800"/><stop offset="0.650" stop-color="#80be00"/><stop offset="0.690" stop-color="#00b400"/><stop offset="1.000" stop-color="#00b200"/></linearGradient><linearGradient id="r60" gradientUnits="userSpaceOnUse" x1="292" y1="0" x2="999.8" y2="0"><stop offset="0.000" stop-color="#ee3206"/><stop offset="0.350" stop-color="#f52600"/><stop offset="0.384" stop-color="#f83600"/><stop offset="0.440" stop-color="#f84000"/><stop offset="0.499" stop-color="#f06800"/><stop offset="0.566" stop-color="#e29800"/><stop offset="0.591" stop-color="#d8b000"/><stop offset="0.616" stop-color="#c8c800"/><stop offset="0.649" stop-color="#80be00"/><stop offset="0.689" stop-color="#00b400"/><stop offset="1.000" stop-color="#00b200"/></linearGradient><linearGradient id="r61" gradientUnits="userSpaceOnUse" x1="292" y1="0" x2="998" y2="0"><stop offset="0.000" stop-color="#ee3206"/><stop offset="0.351" stop-color="#f52600"/><stop offset="0.385" stop-color="#f83600"/><stop offset="0.440" stop-color="#f84000"/><stop offset="0.500" stop-color="#f06800"/><stop offset="0.566" stop-color="#e29800"/><stop offset="0.591" stop-color="#d8b000"/><stop offset="0.615" stop-color="#c8c800"/><stop offset="0.648" stop-color="#80be00"/><stop offset="0.688" stop-color="#00b400"/><stop offset="1.000" stop-color="#00b200"/></linearGradient><linearGradient id="r62" gradientUnits="userSpaceOnUse" x1="292" y1="0" x2="996.1" y2="0"><stop offset="0.000" stop-color="#ee3206"/><stop offset="0.352" stop-color="#f52600"/><stop offset="0.386" stop-color="#f83600"/><stop offset="0.441" stop-color="#f84000"/><stop offset="0.500" stop-color="#f06800"/><stop offset="0.566" stop-color="#e29800"/><stop offset="0.590" stop-color="#d8b000"/><stop offset="0.615" stop-color="#c8c800"/><stop offset="0.647" stop-color="#80be00"/><stop offset="0.688" stop-color="#00b400"/><stop offset="1.000" stop-color="#00b200"/></linearGradient><linearGradient id="r63" gradientUnits="userSpaceOnUse" x1="292" y1="0" x2="994.3" y2="0"><stop offset="0.000" stop-color="#ee3206"/><stop offset="0.353" stop-color="#f52600"/><stop offset="0.387" stop-color="#f83600"/><stop offset="0.442" stop-color="#f84000"/><stop offset="0.500" stop-color="#f06800"/><stop offset="0.566" stop-color="#e29800"/><stop offset="0.590" stop-color="#d8b000"/><stop offset="0.614" stop-color="#c8c800"/><stop offset="0.646" stop-color="#80be00"/><stop offset="0.687" stop-color="#00b400"/><stop offset="1.000" stop-color="#00b200"/></linearGradient><linearGradient id="r64" gradientUnits="userSpaceOnUse" x1="292" y1="0" x2="992.5" y2="0"><stop offset="0.000" stop-color="#ee3206"/><stop offset="0.354" stop-color="#f52600"/><stop offset="0.388" stop-color="#f83600"/><stop offset="0.442" stop-color="#f84000"/><stop offset="0.501" stop-color="#f06800"/><stop offset="0.566" stop-color="#e29800"/><stop offset="0.590" stop-color="#d8b000"/><stop offset="0.613" stop-color="#c8c800"/><stop offset="0.646" stop-color="#80be00"/><stop offset="0.686" stop-color="#00b400"/><stop offset="1.000" stop-color="#00b200"/></linearGradient><linearGradient id="r65" gradientUnits="userSpaceOnUse" x1="292" y1="0" x2="990.7" y2="0"><stop offset="0.000" stop-color="#ee3206"/><stop offset="0.355" stop-color="#f52600"/><stop offset="0.389" stop-color="#f83600"/><stop offset="0.443" stop-color="#f84000"/><stop offset="0.501" stop-color="#f06800"/><stop offset="0.567" stop-color="#e29800"/><stop offset="0.589" stop-color="#d8b000"/><stop offset="0.612" stop-color="#c8c800"/><stop offset="0.645" stop-color="#80be00"/><stop offset="0.685" stop-color="#00b400"/><stop offset="1.000" stop-color="#00b200"/></linearGradient><linearGradient id="r66" gradientUnits="userSpaceOnUse" x1="292" y1="0" x2="988.9" y2="0"><stop offset="0.000" stop-color="#ee3206"/><stop offset="0.356" stop-color="#f52600"/><stop offset="0.390" stop-color="#f83600"/><stop offset="0.444" stop-color="#f84000"/><stop offset="0.502" stop-color="#f06800"/><stop offset="0.567" stop-color="#e29800"/><stop offset="0.589" stop-color="#d8b000"/><stop offset="0.611" stop-color="#c8c800"/><stop offset="0.644" stop-color="#80be00"/><stop offset="0.684" stop-color="#00b400"/><stop offset="1.000" stop-color="#00b200"/></linearGradient><linearGradient id="r67" gradientUnits="userSpaceOnUse" x1="292" y1="0" x2="987.1" y2="0"><stop offset="0.000" stop-color="#ee3206"/><stop offset="0.357" stop-color="#f52600"/><stop offset="0.391" stop-color="#f83600"/><stop offset="0.445" stop-color="#f84000"/><stop offset="0.502" stop-color="#f06800"/><stop offset="0.567" stop-color="#e29800"/><stop offset="0.588" stop-color="#d8b000"/><stop offset="0.610" stop-color="#c8c800"/><stop offset="0.643" stop-color="#80be00"/><stop offset="0.683" stop-color="#00b400"/><stop offset="1.000" stop-color="#00b200"/></linearGradient><linearGradient id="r68" gradientUnits="userSpaceOnUse" x1="292" y1="0" x2="985.3" y2="0"><stop offset="0.000" stop-color="#ee3206"/><stop offset="0.358" stop-color="#f52600"/><stop offset="0.392" stop-color="#f83600"/><stop offset="0.445" stop-color="#f84000"/><stop offset="0.503" stop-color="#f06800"/><stop offset="0.567" stop-color="#e29800"/><stop offset="0.588" stop-color="#d8b000"/><stop offset="0.609" stop-color="#c8c800"/><stop offset="0.642" stop-color="#80be00"/><stop offset="0.683" stop-color="#00b400"/><stop offset="1.000" stop-color="#00b200"/></linearGradient><linearGradient id="r69" gradientUnits="userSpaceOnUse" x1="292" y1="0" x2="983.4" y2="0"><stop offset="0.000" stop-color="#ee3206"/><stop offset="0.359" stop-color="#f52600"/><stop offset="0.393" stop-color="#f83600"/><stop offset="0.446" stop-color="#f84000"/><stop offset="0.503" stop-color="#f06800"/><stop offset="0.567" stop-color="#e29800"/><stop offset="0.587" stop-color="#d8b000"/><stop offset="0.608" stop-color="#c8c800"/><stop offset="0.641" stop-color="#80be00"/><stop offset="0.682" stop-color="#00b400"/><stop offset="1.000" stop-color="#00b200"/></linearGradient><linearGradient id="r70" gradientUnits="userSpaceOnUse" x1="292" y1="0" x2="981.6" y2="0"><stop offset="0.000" stop-color="#ee3206"/><stop offset="0.360" stop-color="#f52600"/><stop offset="0.394" stop-color="#f83600"/><stop offset="0.447" stop-color="#f84000"/><stop offset="0.503" stop-color="#f06800"/><stop offset="0.567" stop-color="#e29800"/><stop offset="0.587" stop-color="#d8b000"/><stop offset="0.607" stop-color="#c8c800"/><stop offset="0.640" stop-color="#80be00"/><stop offset="0.681" stop-color="#00b400"/><stop offset="1.000" stop-color="#00b200"/></linearGradient><linearGradient id="r71" gradientUnits="userSpaceOnUse" x1="292" y1="0" x2="979.8" y2="0"><stop offset="0.000" stop-color="#ee3206"/><stop offset="0.361" stop-color="#f52600"/><stop offset="0.395" stop-color="#f83600"/><stop offset="0.447" stop-color="#f84000"/><stop offset="0.504" stop-color="#f06800"/><stop offset="0.567" stop-color="#e29800"/><stop offset="0.586" stop-color="#d8b000"/><stop offset="0.606" stop-color="#c8c800"/><stop offset="0.639" stop-color="#80be00"/><stop offset="0.680" stop-color="#00b400"/><stop offset="1.000" stop-color="#00b200"/></linearGradient><linearGradient id="r72" gradientUnits="userSpaceOnUse" x1="292" y1="0" x2="978" y2="0"><stop offset="0.000" stop-color="#ee3206"/><stop offset="0.362" stop-color="#f52600"/><stop offset="0.397" stop-color="#f83600"/><stop offset="0.448" stop-color="#f84000"/><stop offset="0.504" stop-color="#f06800"/><stop offset="0.567" stop-color="#e29800"/><stop offset="0.586" stop-color="#d8b000"/><stop offset="0.605" stop-color="#c8c800"/><stop offset="0.638" stop-color="#80be00"/><stop offset="0.679" stop-color="#00b400"/><stop offset="1.000" stop-color="#00b200"/></linearGradient><linearGradient id="r73" gradientUnits="userSpaceOnUse" x1="292.3" y1="0" x2="976.2" y2="0"><stop offset="0.000" stop-color="#ee3206"/><stop offset="0.363" stop-color="#f52600"/><stop offset="0.398" stop-color="#f83600"/><stop offset="0.449" stop-color="#f84000"/><stop offset="0.505" stop-color="#f06800"/><stop offset="0.567" stop-color="#e29800"/><stop offset="0.585" stop-color="#d8b000"/><stop offset="0.604" stop-color="#c8c800"/><stop offset="0.637" stop-color="#80be00"/><stop offset="0.678" stop-color="#00b400"/><stop offset="1.000" stop-color="#00b200"/></linearGradient><linearGradient id="r74" gradientUnits="userSpaceOnUse" x1="292.7" y1="0" x2="974.5" y2="0"><stop offset="0.000" stop-color="#ee3206"/><stop offset="0.364" stop-color="#f52600"/><stop offset="0.399" stop-color="#f83600"/><stop offset="0.449" stop-color="#f84000"/><stop offset="0.505" stop-color="#f06800"/><stop offset="0.566" stop-color="#e29800"/><stop offset="0.585" stop-color="#d8b000"/><stop offset="0.603" stop-color="#c8c800"/><stop offset="0.636" stop-color="#80be00"/><stop offset="0.677" stop-color="#00b400"/><stop offset="1.000" stop-color="#00b200"/></linearGradient><linearGradient id="r75" gradientUnits="userSpaceOnUse" x1="293" y1="0" x2="972.7" y2="0"><stop offset="0.000" stop-color="#ee3206"/><stop offset="0.365" stop-color="#f52600"/><stop offset="0.400" stop-color="#f83600"/><stop offset="0.450" stop-color="#f84000"/><stop offset="0.505" stop-color="#f06800"/><stop offset="0.566" stop-color="#e29800"/><stop offset="0.584" stop-color="#d8b000"/><stop offset="0.602" stop-color="#c8c800"/><stop offset="0.636" stop-color="#80be00"/><stop offset="0.676" stop-color="#00b400"/><stop offset="1.000" stop-color="#00b200"/></linearGradient><linearGradient id="r76" gradientUnits="userSpaceOnUse" x1="293.4" y1="0" x2="970.9" y2="0"><stop offset="0.000" stop-color="#ee3206"/><stop offset="0.366" stop-color="#f52600"/><stop offset="0.401" stop-color="#f83600"/><stop offset="0.451" stop-color="#f84000"/><stop offset="0.506" stop-color="#f06800"/><stop offset="0.566" stop-color="#e29800"/><stop offset="0.584" stop-color="#d8b000"/><stop offset="0.601" stop-color="#c8c800"/><stop offset="0.635" stop-color="#80be00"/><stop offset="0.675" stop-color="#00b400"/><stop offset="1.000" stop-color="#00b200"/></linearGradient><linearGradient id="r77" gradientUnits="userSpaceOnUse" x1="293.7" y1="0" x2="969.1" y2="0"><stop offset="0.000" stop-color="#ee3206"/><stop offset="0.367" stop-color="#f52600"/><stop offset="0.403" stop-color="#f83600"/><stop offset="0.452" stop-color="#f84000"/><stop offset="0.506" stop-color="#f06800"/><stop offset="0.565" stop-color="#e29800"/><stop offset="0.583" stop-color="#d8b000"/><stop offset="0.601" stop-color="#c8c800"/><stop offset="0.634" stop-color="#80be00"/><stop offset="0.674" stop-color="#00b400"/><stop offset="1.000" stop-color="#00b200"/></linearGradient><linearGradient id="r78" gradientUnits="userSpaceOnUse" x1="294" y1="0" x2="967.4" y2="0"><stop offset="0.000" stop-color="#ee3206"/><stop offset="0.368" stop-color="#f52600"/><stop offset="0.404" stop-color="#f83600"/><stop offset="0.452" stop-color="#f84000"/><stop offset="0.506" stop-color="#f06800"/><stop offset="0.565" stop-color="#e29800"/><stop offset="0.582" stop-color="#d8b000"/><stop offset="0.600" stop-color="#c8c800"/><stop offset="0.633" stop-color="#80be00"/><stop offset="0.673" stop-color="#00b400"/><stop offset="1.000" stop-color="#00b200"/></linearGradient><linearGradient id="r79" gradientUnits="userSpaceOnUse" x1="294.4" y1="0" x2="965.6" y2="0"><stop offset="0.000" stop-color="#ee3206"/><stop offset="0.369" stop-color="#f52600"/><stop offset="0.405" stop-color="#f83600"/><stop offset="0.453" stop-color="#f84000"/><stop offset="0.507" stop-color="#f06800"/><stop offset="0.565" stop-color="#e29800"/><stop offset="0.582" stop-color="#d8b000"/><stop offset="0.599" stop-color="#c8c800"/><stop offset="0.632" stop-color="#80be00"/><stop offset="0.672" stop-color="#00b400"/><stop offset="1.000" stop-color="#00b200"/></linearGradient><linearGradient id="r80" gradientUnits="userSpaceOnUse" x1="294.7" y1="0" x2="963.8" y2="0"><stop offset="0.000" stop-color="#ee3206"/><stop offset="0.371" stop-color="#f52600"/><stop offset="0.407" stop-color="#f83600"/><stop offset="0.454" stop-color="#f84000"/><stop offset="0.507" stop-color="#f06800"/><stop offset="0.564" stop-color="#e29800"/><stop offset="0.581" stop-color="#d8b000"/><stop offset="0.598" stop-color="#c8c800"/><stop offset="0.631" stop-color="#80be00"/><stop offset="0.671" stop-color="#00b400"/><stop offset="1.000" stop-color="#00b200"/></linearGradient><linearGradient id="r81" gradientUnits="userSpaceOnUse" x1="295" y1="0" x2="962" y2="0"><stop offset="0.000" stop-color="#ee3206"/><stop offset="0.372" stop-color="#f52600"/><stop offset="0.408" stop-color="#f83600"/><stop offset="0.454" stop-color="#f84000"/><stop offset="0.507" stop-color="#f06800"/><stop offset="0.564" stop-color="#e29800"/><stop offset="0.581" stop-color="#d8b000"/><stop offset="0.598" stop-color="#c8c800"/><stop offset="0.630" stop-color="#80be00"/><stop offset="0.670" stop-color="#00b400"/><stop offset="1.000" stop-color="#00b200"/></linearGradient><linearGradient id="r82" gradientUnits="userSpaceOnUse" x1="295.4" y1="0" x2="960.3" y2="0"><stop offset="0.000" stop-color="#ee3206"/><stop offset="0.373" stop-color="#f52600"/><stop offset="0.409" stop-color="#f83600"/><stop offset="0.455" stop-color="#f84000"/><stop offset="0.508" stop-color="#f06800"/><stop offset="0.563" stop-color="#e29800"/><stop offset="0.580" stop-color="#d8b000"/><stop offset="0.597" stop-color="#c8c800"/><stop offset="0.629" stop-color="#80be00"/><stop offset="0.669" stop-color="#00b400"/><stop offset="1.000" stop-color="#00b200"/></linearGradient><linearGradient id="r83" gradientUnits="userSpaceOnUse" x1="295.7" y1="0" x2="958.5" y2="0"><stop offset="0.000" stop-color="#ee3206"/><stop offset="0.374" stop-color="#f52600"/><stop offset="0.410" stop-color="#f83600"/><stop offset="0.456" stop-color="#f84000"/><stop offset="0.508" stop-color="#f06800"/><stop offset="0.563" stop-color="#e29800"/><stop offset="0.580" stop-color="#d8b000"/><stop offset="0.596" stop-color="#c8c800"/><stop offset="0.628" stop-color="#80be00"/><stop offset="0.668" stop-color="#00b400"/><stop offset="1.000" stop-color="#00b200"/></linearGradient><linearGradient id="r84" gradientUnits="userSpaceOnUse" x1="296.2" y1="0" x2="956.9" y2="0"><stop offset="0.000" stop-color="#ee3206"/><stop offset="0.375" stop-color="#f52600"/><stop offset="0.412" stop-color="#f83600"/><stop offset="0.457" stop-color="#f84000"/><stop offset="0.508" stop-color="#f06800"/><stop offset="0.563" stop-color="#e29800"/><stop offset="0.579" stop-color="#d8b000"/><stop offset="0.595" stop-color="#c8c800"/><stop offset="0.628" stop-color="#80be00"/><stop offset="0.667" stop-color="#00b400"/><stop offset="1.000" stop-color="#00b200"/></linearGradient><linearGradient id="r85" gradientUnits="userSpaceOnUse" x1="297.2" y1="0" x2="956.1" y2="0"><stop offset="0.000" stop-color="#ee3206"/><stop offset="0.376" stop-color="#f52600"/><stop offset="0.413" stop-color="#f83600"/><stop offset="0.457" stop-color="#f84000"/><stop offset="0.508" stop-color="#f06800"/><stop offset="0.561" stop-color="#e29800"/><stop offset="0.578" stop-color="#d8b000"/><stop offset="0.595" stop-color="#c8c800"/><stop offset="0.627" stop-color="#80be00"/><stop offset="0.666" stop-color="#00b400"/><stop offset="1.000" stop-color="#00b200"/></linearGradient><linearGradient id="r86" gradientUnits="userSpaceOnUse" x1="298.3" y1="0" x2="955.4" y2="0"><stop offset="0.000" stop-color="#ee3206"/><stop offset="0.377" stop-color="#f52600"/><stop offset="0.414" stop-color="#f83600"/><stop offset="0.457" stop-color="#f84000"/><stop offset="0.507" stop-color="#f06800"/><stop offset="0.560" stop-color="#e29800"/><stop offset="0.578" stop-color="#d8b000"/><stop offset="0.595" stop-color="#c8c800"/><stop offset="0.627" stop-color="#80be00"/><stop offset="0.665" stop-color="#00b400"/><stop offset="1.000" stop-color="#00b200"/></linearGradient><linearGradient id="r87" gradientUnits="userSpaceOnUse" x1="299.4" y1="0" x2="954.7" y2="0"><stop offset="0.000" stop-color="#ee3206"/><stop offset="0.378" stop-color="#f52600"/><stop offset="0.415" stop-color="#f83600"/><stop offset="0.457" stop-color="#f84000"/><stop offset="0.507" stop-color="#f06800"/><stop offset="0.559" stop-color="#e29800"/><stop offset="0.577" stop-color="#d8b000"/><stop offset="0.595" stop-color="#c8c800"/><stop offset="0.626" stop-color="#80be00"/><stop offset="0.664" stop-color="#00b400"/><stop offset="1.000" stop-color="#00b200"/></linearGradient><linearGradient id="r88" gradientUnits="userSpaceOnUse" x1="300.5" y1="0" x2="953.9" y2="0"><stop offset="0.000" stop-color="#ee3206"/><stop offset="0.380" stop-color="#f52600"/><stop offset="0.416" stop-color="#f83600"/><stop offset="0.457" stop-color="#f84000"/><stop offset="0.506" stop-color="#f06800"/><stop offset="0.558" stop-color="#e29800"/><stop offset="0.577" stop-color="#d8b000"/><stop offset="0.595" stop-color="#c8c800"/><stop offset="0.626" stop-color="#80be00"/><stop offset="0.663" stop-color="#00b400"/><stop offset="1.000" stop-color="#00b200"/></linearGradient><linearGradient id="r89" gradientUnits="userSpaceOnUse" x1="301.5" y1="0" x2="953.2" y2="0"><stop offset="0.000" stop-color="#ee3206"/><stop offset="0.381" stop-color="#f52600"/><stop offset="0.417" stop-color="#f83600"/><stop offset="0.458" stop-color="#f84000"/><stop offset="0.505" stop-color="#f06800"/><stop offset="0.557" stop-color="#e29800"/><stop offset="0.576" stop-color="#d8b000"/><stop offset="0.595" stop-color="#c8c800"/><stop offset="0.626" stop-color="#80be00"/><stop offset="0.662" stop-color="#00b400"/><stop offset="1.000" stop-color="#00b200"/></linearGradient><linearGradient id="r90" gradientUnits="userSpaceOnUse" x1="302.6" y1="0" x2="952.4" y2="0"><stop offset="0.000" stop-color="#ee3206"/><stop offset="0.382" stop-color="#f52600"/><stop offset="0.419" stop-color="#f83600"/><stop offset="0.458" stop-color="#f84000"/><stop offset="0.505" stop-color="#f06800"/><stop offset="0.556" stop-color="#e29800"/><stop offset="0.576" stop-color="#d8b000"/><stop offset="0.595" stop-color="#c8c800"/><stop offset="0.625" stop-color="#80be00"/><stop offset="0.661" stop-color="#00b400"/><stop offset="1.000" stop-color="#00b200"/></linearGradient><linearGradient id="r91" gradientUnits="userSpaceOnUse" x1="303.7" y1="0" x2="951.7" y2="0"><stop offset="0.000" stop-color="#ee3206"/><stop offset="0.383" stop-color="#f52600"/><stop offset="0.420" stop-color="#f83600"/><stop offset="0.458" stop-color="#f84000"/><stop offset="0.504" stop-color="#f06800"/><stop offset="0.554" stop-color="#e29800"/><stop offset="0.575" stop-color="#d8b000"/><stop offset="0.595" stop-color="#c8c800"/><stop offset="0.625" stop-color="#80be00"/><stop offset="0.661" stop-color="#00b400"/><stop offset="1.000" stop-color="#00b200"/></linearGradient><linearGradient id="r92" gradientUnits="userSpaceOnUse" x1="304.7" y1="0" x2="951" y2="0"><stop offset="0.000" stop-color="#ee3206"/><stop offset="0.384" stop-color="#f52600"/><stop offset="0.421" stop-color="#f83600"/><stop offset="0.458" stop-color="#f84000"/><stop offset="0.504" stop-color="#f06800"/><stop offset="0.553" stop-color="#e29800"/><stop offset="0.574" stop-color="#d8b000"/><stop offset="0.595" stop-color="#c8c800"/><stop offset="0.624" stop-color="#80be00"/><stop offset="0.660" stop-color="#00b400"/><stop offset="1.000" stop-color="#00b200"/></linearGradient><linearGradient id="r93" gradientUnits="userSpaceOnUse" x1="305.8" y1="0" x2="950.2" y2="0"><stop offset="0.000" stop-color="#ee3206"/><stop offset="0.385" stop-color="#f52600"/><stop offset="0.422" stop-color="#f83600"/><stop offset="0.458" stop-color="#f84000"/><stop offset="0.503" stop-color="#f06800"/><stop offset="0.552" stop-color="#e29800"/><stop offset="0.574" stop-color="#d8b000"/><stop offset="0.595" stop-color="#c8c800"/><stop offset="0.624" stop-color="#80be00"/><stop offset="0.659" stop-color="#00b400"/><stop offset="1.000" stop-color="#00b200"/></linearGradient><linearGradient id="r94" gradientUnits="userSpaceOnUse" x1="306.9" y1="0" x2="949.5" y2="0"><stop offset="0.000" stop-color="#ee3206"/><stop offset="0.386" stop-color="#f52600"/><stop offset="0.423" stop-color="#f83600"/><stop offset="0.458" stop-color="#f84000"/><stop offset="0.503" stop-color="#f06800"/><stop offset="0.551" stop-color="#e29800"/><stop offset="0.573" stop-color="#d8b000"/><stop offset="0.595" stop-color="#c8c800"/><stop offset="0.623" stop-color="#80be00"/><stop offset="0.658" stop-color="#00b400"/><stop offset="1.000" stop-color="#00b200"/></linearGradient><linearGradient id="r95" gradientUnits="userSpaceOnUse" x1="307.9" y1="0" x2="948.7" y2="0"><stop offset="0.000" stop-color="#ee3206"/><stop offset="0.387" stop-color="#f52600"/><stop offset="0.424" stop-color="#f83600"/><stop offset="0.459" stop-color="#f84000"/><stop offset="0.502" stop-color="#f06800"/><stop offset="0.550" stop-color="#e29800"/><stop offset="0.573" stop-color="#d8b000"/><stop offset="0.595" stop-color="#c8c800"/><stop offset="0.623" stop-color="#80be00"/><stop offset="0.657" stop-color="#00b400"/><stop offset="1.000" stop-color="#00b200"/></linearGradient><linearGradient id="r96" gradientUnits="userSpaceOnUse" x1="309" y1="0" x2="948" y2="0"><stop offset="0.000" stop-color="#ee3206"/><stop offset="0.388" stop-color="#f52600"/><stop offset="0.426" stop-color="#f83600"/><stop offset="0.459" stop-color="#f84000"/><stop offset="0.501" stop-color="#f06800"/><stop offset="0.549" stop-color="#e29800"/><stop offset="0.572" stop-color="#d8b000"/><stop offset="0.595" stop-color="#c8c800"/><stop offset="0.623" stop-color="#80be00"/><stop offset="0.656" stop-color="#00b400"/><stop offset="1.000" stop-color="#00b200"/></linearGradient><linearGradient id="r97" gradientUnits="userSpaceOnUse" x1="308.8" y1="0" x2="948.5" y2="0"><stop offset="0.000" stop-color="#ee3206"/><stop offset="0.388" stop-color="#f52600"/><stop offset="0.425" stop-color="#f83600"/><stop offset="0.458" stop-color="#f84000"/><stop offset="0.501" stop-color="#f06800"/><stop offset="0.548" stop-color="#e29800"/><stop offset="0.572" stop-color="#d8b000"/><stop offset="0.595" stop-color="#c8c800"/><stop offset="0.623" stop-color="#80be00"/><stop offset="0.656" stop-color="#00b400"/><stop offset="1.000" stop-color="#00b200"/></linearGradient><linearGradient id="r98" gradientUnits="userSpaceOnUse" x1="308.6" y1="0" x2="949" y2="0"><stop offset="0.000" stop-color="#ee3206"/><stop offset="0.387" stop-color="#f52600"/><stop offset="0.425" stop-color="#f83600"/><stop offset="0.458" stop-color="#f84000"/><stop offset="0.500" stop-color="#f06800"/><stop offset="0.548" stop-color="#e29800"/><stop offset="0.571" stop-color="#d8b000"/><stop offset="0.595" stop-color="#c8c800"/><stop offset="0.622" stop-color="#80be00"/><stop offset="0.656" stop-color="#00b400"/><stop offset="1.000" stop-color="#00b200"/></linearGradient><linearGradient id="r99" gradientUnits="userSpaceOnUse" x1="308.4" y1="0" x2="949.4" y2="0"><stop offset="0.000" stop-color="#ee3206"/><stop offset="0.387" stop-color="#f52600"/><stop offset="0.424" stop-color="#f83600"/><stop offset="0.457" stop-color="#f84000"/><stop offset="0.500" stop-color="#f06800"/><stop offset="0.548" stop-color="#e29800"/><stop offset="0.571" stop-color="#d8b000"/><stop offset="0.594" stop-color="#c8c800"/><stop offset="0.622" stop-color="#80be00"/><stop offset="0.657" stop-color="#00b400"/><stop offset="1.000" stop-color="#00b200"/></linearGradient><linearGradient id="r100" gradientUnits="userSpaceOnUse" x1="308.2" y1="0" x2="949.9" y2="0"><stop offset="0.000" stop-color="#ee3206"/><stop offset="0.386" stop-color="#f52600"/><stop offset="0.424" stop-color="#f83600"/><stop offset="0.457" stop-color="#f84000"/><stop offset="0.500" stop-color="#f06800"/><stop offset="0.547" stop-color="#e29800"/><stop offset="0.571" stop-color="#d8b000"/><stop offset="0.594" stop-color="#c8c800"/><stop offset="0.622" stop-color="#80be00"/><stop offset="0.657" stop-color="#00b400"/><stop offset="1.000" stop-color="#00b200"/></linearGradient><linearGradient id="r101" gradientUnits="userSpaceOnUse" x1="308" y1="0" x2="950.4" y2="0"><stop offset="0.000" stop-color="#ee3206"/><stop offset="0.386" stop-color="#f52600"/><stop offset="0.423" stop-color="#f83600"/><stop offset="0.457" stop-color="#f84000"/><stop offset="0.499" stop-color="#f06800"/><stop offset="0.547" stop-color="#e29800"/><stop offset="0.570" stop-color="#d8b000"/><stop offset="0.594" stop-color="#c8c800"/><stop offset="0.622" stop-color="#80be00"/><stop offset="0.658" stop-color="#00b400"/><stop offset="1.000" stop-color="#00b200"/></linearGradient><linearGradient id="r102" gradientUnits="userSpaceOnUse" x1="307.8" y1="0" x2="950.9" y2="0"><stop offset="0.000" stop-color="#ee3206"/><stop offset="0.386" stop-color="#f52600"/><stop offset="0.423" stop-color="#f83600"/><stop offset="0.456" stop-color="#f84000"/><stop offset="0.499" stop-color="#f06800"/><stop offset="0.547" stop-color="#e29800"/><stop offset="0.570" stop-color="#d8b000"/><stop offset="0.593" stop-color="#c8c800"/><stop offset="0.622" stop-color="#80be00"/><stop offset="0.658" stop-color="#00b400"/><stop offset="1.000" stop-color="#00b200"/></linearGradient><linearGradient id="r103" gradientUnits="userSpaceOnUse" x1="307.6" y1="0" x2="951.4" y2="0"><stop offset="0.000" stop-color="#ee3206"/><stop offset="0.385" stop-color="#f52600"/><stop offset="0.422" stop-color="#f83600"/><stop offset="0.456" stop-color="#f84000"/><stop offset="0.498" stop-color="#f06800"/><stop offset="0.547" stop-color="#e29800"/><stop offset="0.570" stop-color="#d8b000"/><stop offset="0.593" stop-color="#c8c800"/><stop offset="0.622" stop-color="#80be00"/><stop offset="0.658" stop-color="#00b400"/><stop offset="1.000" stop-color="#00b200"/></linearGradient><linearGradient id="r104" gradientUnits="userSpaceOnUse" x1="307.3" y1="0" x2="951.9" y2="0"><stop offset="0.000" stop-color="#ee3206"/><stop offset="0.385" stop-color="#f52600"/><stop offset="0.422" stop-color="#f83600"/><stop offset="0.455" stop-color="#f84000"/><stop offset="0.498" stop-color="#f06800"/><stop offset="0.546" stop-color="#e29800"/><stop offset="0.569" stop-color="#d8b000"/><stop offset="0.593" stop-color="#c8c800"/><stop offset="0.622" stop-color="#80be00"/><stop offset="0.659" stop-color="#00b400"/><stop offset="1.000" stop-color="#00b200"/></linearGradient><linearGradient id="r105" gradientUnits="userSpaceOnUse" x1="307.1" y1="0" x2="952.3" y2="0"><stop offset="0.000" stop-color="#ee3206"/><stop offset="0.384" stop-color="#f52600"/><stop offset="0.422" stop-color="#f83600"/><stop offset="0.455" stop-color="#f84000"/><stop offset="0.497" stop-color="#f06800"/><stop offset="0.546" stop-color="#e29800"/><stop offset="0.569" stop-color="#d8b000"/><stop offset="0.592" stop-color="#c8c800"/><stop offset="0.622" stop-color="#80be00"/><stop offset="0.659" stop-color="#00b400"/><stop offset="1.000" stop-color="#00b200"/></linearGradient><linearGradient id="r106" gradientUnits="userSpaceOnUse" x1="306.9" y1="0" x2="952.8" y2="0"><stop offset="0.000" stop-color="#ee3206"/><stop offset="0.384" stop-color="#f52600"/><stop offset="0.421" stop-color="#f83600"/><stop offset="0.454" stop-color="#f84000"/><stop offset="0.497" stop-color="#f06800"/><stop offset="0.546" stop-color="#e29800"/><stop offset="0.569" stop-color="#d8b000"/><stop offset="0.592" stop-color="#c8c800"/><stop offset="0.622" stop-color="#80be00"/><stop offset="0.659" stop-color="#00b400"/><stop offset="1.000" stop-color="#00b200"/></linearGradient><linearGradient id="r107" gradientUnits="userSpaceOnUse" x1="306.7" y1="0" x2="953.3" y2="0"><stop offset="0.000" stop-color="#ee3206"/><stop offset="0.384" stop-color="#f52600"/><stop offset="0.421" stop-color="#f83600"/><stop offset="0.454" stop-color="#f84000"/><stop offset="0.496" stop-color="#f06800"/><stop offset="0.546" stop-color="#e29800"/><stop offset="0.569" stop-color="#d8b000"/><stop offset="0.591" stop-color="#c8c800"/><stop offset="0.622" stop-color="#80be00"/><stop offset="0.660" stop-color="#00b400"/><stop offset="1.000" stop-color="#00b200"/></linearGradient><linearGradient id="r108" gradientUnits="userSpaceOnUse" x1="306.5" y1="0" x2="953.8" y2="0"><stop offset="0.000" stop-color="#ee3206"/><stop offset="0.383" stop-color="#f52600"/><stop offset="0.420" stop-color="#f83600"/><stop offset="0.453" stop-color="#f84000"/><stop offset="0.496" stop-color="#f06800"/><stop offset="0.545" stop-color="#e29800"/><stop offset="0.568" stop-color="#d8b000"/><stop offset="0.591" stop-color="#c8c800"/><stop offset="0.622" stop-color="#80be00"/><stop offset="0.660" stop-color="#00b400"/><stop offset="1.000" stop-color="#00b200"/></linearGradient><linearGradient id="r109" gradientUnits="userSpaceOnUse" x1="306.3" y1="0" x2="954.3" y2="0"><stop offset="0.000" stop-color="#ee3206"/><stop offset="0.383" stop-color="#f52600"/><stop offset="0.420" stop-color="#f83600"/><stop offset="0.453" stop-color="#f84000"/><stop offset="0.495" stop-color="#f06800"/><stop offset="0.545" stop-color="#e29800"/><stop offset="0.568" stop-color="#d8b000"/><stop offset="0.591" stop-color="#c8c800"/><stop offset="0.622" stop-color="#80be00"/><stop offset="0.660" stop-color="#00b400"/><stop offset="1.000" stop-color="#00b200"/></linearGradient><linearGradient id="r110" gradientUnits="userSpaceOnUse" x1="306.1" y1="0" x2="954.8" y2="0"><stop offset="0.000" stop-color="#ee3206"/><stop offset="0.382" stop-color="#f52600"/><stop offset="0.419" stop-color="#f83600"/><stop offset="0.453" stop-color="#f84000"/><stop offset="0.495" stop-color="#f06800"/><stop offset="0.545" stop-color="#e29800"/><stop offset="0.568" stop-color="#d8b000"/><stop offset="0.590" stop-color="#c8c800"/><stop offset="0.622" stop-color="#80be00"/><stop offset="0.661" stop-color="#00b400"/><stop offset="1.000" stop-color="#00b200"/></linearGradient><linearGradient id="r111" gradientUnits="userSpaceOnUse" x1="305.8" y1="0" x2="955.3" y2="0"><stop offset="0.000" stop-color="#ee3206"/><stop offset="0.382" stop-color="#f52600"/><stop offset="0.419" stop-color="#f83600"/><stop offset="0.452" stop-color="#f84000"/><stop offset="0.494" stop-color="#f06800"/><stop offset="0.545" stop-color="#e29800"/><stop offset="0.567" stop-color="#d8b000"/><stop offset="0.590" stop-color="#c8c800"/><stop offset="0.622" stop-color="#80be00"/><stop offset="0.661" stop-color="#00b400"/><stop offset="1.000" stop-color="#00b200"/></linearGradient><linearGradient id="r112" gradientUnits="userSpaceOnUse" x1="305.4" y1="0" x2="956" y2="0"><stop offset="0.000" stop-color="#ee3206"/><stop offset="0.381" stop-color="#f52600"/><stop offset="0.418" stop-color="#f83600"/><stop offset="0.451" stop-color="#f84000"/><stop offset="0.494" stop-color="#f06800"/><stop offset="0.544" stop-color="#e29800"/><stop offset="0.567" stop-color="#d8b000"/><stop offset="0.590" stop-color="#c8c800"/><stop offset="0.622" stop-color="#80be00"/><stop offset="0.662" stop-color="#00b400"/><stop offset="1.000" stop-color="#00b200"/></linearGradient><linearGradient id="r113" gradientUnits="userSpaceOnUse" x1="305.1" y1="0" x2="956.7" y2="0"><stop offset="0.000" stop-color="#ee3206"/><stop offset="0.381" stop-color="#f52600"/><stop offset="0.417" stop-color="#f83600"/><stop offset="0.451" stop-color="#f84000"/><stop offset="0.493" stop-color="#f06800"/><stop offset="0.544" stop-color="#e29800"/><stop offset="0.567" stop-color="#d8b000"/><stop offset="0.589" stop-color="#c8c800"/><stop offset="0.622" stop-color="#80be00"/><stop offset="0.662" stop-color="#00b400"/><stop offset="1.000" stop-color="#00b200"/></linearGradient><linearGradient id="r114" gradientUnits="userSpaceOnUse" x1="304.7" y1="0" x2="957.4" y2="0"><stop offset="0.000" stop-color="#ee3206"/><stop offset="0.380" stop-color="#f52600"/><stop offset="0.417" stop-color="#f83600"/><stop offset="0.450" stop-color="#f84000"/><stop offset="0.493" stop-color="#f06800"/><stop offset="0.544" stop-color="#e29800"/><stop offset="0.566" stop-color="#d8b000"/><stop offset="0.589" stop-color="#c8c800"/><stop offset="0.622" stop-color="#80be00"/><stop offset="0.663" stop-color="#00b400"/><stop offset="1.000" stop-color="#00b200"/></linearGradient><linearGradient id="r115" gradientUnits="userSpaceOnUse" x1="304.3" y1="0" x2="958.1" y2="0"><stop offset="0.000" stop-color="#ee3206"/><stop offset="0.379" stop-color="#f52600"/><stop offset="0.416" stop-color="#f83600"/><stop offset="0.450" stop-color="#f84000"/><stop offset="0.493" stop-color="#f06800"/><stop offset="0.543" stop-color="#e29800"/><stop offset="0.566" stop-color="#d8b000"/><stop offset="0.589" stop-color="#c8c800"/><stop offset="0.622" stop-color="#80be00"/><stop offset="0.664" stop-color="#00b400"/><stop offset="1.000" stop-color="#00b200"/></linearGradient><linearGradient id="r116" gradientUnits="userSpaceOnUse" x1="303.9" y1="0" x2="958.8" y2="0"><stop offset="0.000" stop-color="#ee3206"/><stop offset="0.379" stop-color="#f52600"/><stop offset="0.415" stop-color="#f83600"/><stop offset="0.449" stop-color="#f84000"/><stop offset="0.492" stop-color="#f06800"/><stop offset="0.543" stop-color="#e29800"/><stop offset="0.566" stop-color="#d8b000"/><stop offset="0.588" stop-color="#c8c800"/><stop offset="0.622" stop-color="#80be00"/><stop offset="0.664" stop-color="#00b400"/><stop offset="1.000" stop-color="#00b200"/></linearGradient><linearGradient id="r117" gradientUnits="userSpaceOnUse" x1="303.6" y1="0" x2="959.5" y2="0"><stop offset="0.000" stop-color="#ee3206"/><stop offset="0.378" stop-color="#f52600"/><stop offset="0.415" stop-color="#f83600"/><stop offset="0.449" stop-color="#f84000"/><stop offset="0.492" stop-color="#f06800"/><stop offset="0.543" stop-color="#e29800"/><stop offset="0.565" stop-color="#d8b000"/><stop offset="0.588" stop-color="#c8c800"/><stop offset="0.622" stop-color="#80be00"/><stop offset="0.665" stop-color="#00b400"/><stop offset="1.000" stop-color="#00b200"/></linearGradient><linearGradient id="r118" gradientUnits="userSpaceOnUse" x1="303.2" y1="0" x2="960.2" y2="0"><stop offset="0.000" stop-color="#ee3206"/><stop offset="0.377" stop-color="#f52600"/><stop offset="0.414" stop-color="#f83600"/><stop offset="0.448" stop-color="#f84000"/><stop offset="0.491" stop-color="#f06800"/><stop offset="0.542" stop-color="#e29800"/><stop offset="0.565" stop-color="#d8b000"/><stop offset="0.588" stop-color="#c8c800"/><stop offset="0.623" stop-color="#80be00"/><stop offset="0.665" stop-color="#00b400"/><stop offset="1.000" stop-color="#00b200"/></linearGradient><linearGradient id="r119" gradientUnits="userSpaceOnUse" x1="302.8" y1="0" x2="960.9" y2="0"><stop offset="0.000" stop-color="#ee3206"/><stop offset="0.377" stop-color="#f52600"/><stop offset="0.413" stop-color="#f83600"/><stop offset="0.448" stop-color="#f84000"/><stop offset="0.491" stop-color="#f06800"/><stop offset="0.542" stop-color="#e29800"/><stop offset="0.565" stop-color="#d8b000"/><stop offset="0.587" stop-color="#c8c800"/><stop offset="0.623" stop-color="#80be00"/><stop offset="0.666" stop-color="#00b400"/><stop offset="1.000" stop-color="#00b200"/></linearGradient><linearGradient id="r120" gradientUnits="userSpaceOnUse" x1="302.4" y1="0" x2="961.6" y2="0"><stop offset="0.000" stop-color="#ee3206"/><stop offset="0.376" stop-color="#f52600"/><stop offset="0.413" stop-color="#f83600"/><stop offset="0.447" stop-color="#f84000"/><stop offset="0.490" stop-color="#f06800"/><stop offset="0.542" stop-color="#e29800"/><stop offset="0.564" stop-color="#d8b000"/><stop offset="0.587" stop-color="#c8c800"/><stop offset="0.623" stop-color="#80be00"/><stop offset="0.666" stop-color="#00b400"/><stop offset="1.000" stop-color="#00b200"/></linearGradient><linearGradient id="r121" gradientUnits="userSpaceOnUse" x1="302" y1="0" x2="962.3" y2="0"><stop offset="0.000" stop-color="#ee3206"/><stop offset="0.376" stop-color="#f52600"/><stop offset="0.412" stop-color="#f83600"/><stop offset="0.447" stop-color="#f84000"/><stop offset="0.490" stop-color="#f06800"/><stop offset="0.541" stop-color="#e29800"/><stop offset="0.564" stop-color="#d8b000"/><stop offset="0.587" stop-color="#c8c800"/><stop offset="0.623" stop-color="#80be00"/><stop offset="0.667" stop-color="#00b400"/><stop offset="1.000" stop-color="#00b200"/></linearGradient><linearGradient id="r122" gradientUnits="userSpaceOnUse" x1="301.7" y1="0" x2="963" y2="0"><stop offset="0.000" stop-color="#ee3206"/><stop offset="0.375" stop-color="#f52600"/><stop offset="0.411" stop-color="#f83600"/><stop offset="0.446" stop-color="#f84000"/><stop offset="0.489" stop-color="#f06800"/><stop offset="0.541" stop-color="#e29800"/><stop offset="0.564" stop-color="#d8b000"/><stop offset="0.586" stop-color="#c8c800"/><stop offset="0.623" stop-color="#80be00"/><stop offset="0.667" stop-color="#00b400"/><stop offset="1.000" stop-color="#00b200"/></linearGradient><linearGradient id="r123" gradientUnits="userSpaceOnUse" x1="301.3" y1="0" x2="963.7" y2="0"><stop offset="0.000" stop-color="#ee3206"/><stop offset="0.374" stop-color="#f52600"/><stop offset="0.411" stop-color="#f83600"/><stop offset="0.446" stop-color="#f84000"/><stop offset="0.489" stop-color="#f06800"/><stop offset="0.541" stop-color="#e29800"/><stop offset="0.563" stop-color="#d8b000"/><stop offset="0.586" stop-color="#c8c800"/><stop offset="0.623" stop-color="#80be00"/><stop offset="0.668" stop-color="#00b400"/><stop offset="1.000" stop-color="#00b200"/></linearGradient><linearGradient id="r124" gradientUnits="userSpaceOnUse" x1="300.9" y1="0" x2="964.4" y2="0"><stop offset="0.000" stop-color="#ee3206"/><stop offset="0.374" stop-color="#f52600"/><stop offset="0.410" stop-color="#f83600"/><stop offset="0.445" stop-color="#f84000"/><stop offset="0.489" stop-color="#f06800"/><stop offset="0.540" stop-color="#e29800"/><stop offset="0.563" stop-color="#d8b000"/><stop offset="0.586" stop-color="#c8c800"/><stop offset="0.623" stop-color="#80be00"/><stop offset="0.668" stop-color="#00b400"/><stop offset="1.000" stop-color="#00b200"/></linearGradient><linearGradient id="r125" gradientUnits="userSpaceOnUse" x1="300.7" y1="0" x2="965.8" y2="0"><stop offset="0.000" stop-color="#ee3206"/><stop offset="0.373" stop-color="#f52600"/><stop offset="0.409" stop-color="#f83600"/><stop offset="0.444" stop-color="#f84000"/><stop offset="0.487" stop-color="#f06800"/><stop offset="0.540" stop-color="#e29800"/><stop offset="0.562" stop-color="#d8b000"/><stop offset="0.585" stop-color="#c8c800"/><stop offset="0.623" stop-color="#80be00"/><stop offset="0.669" stop-color="#00b400"/><stop offset="1.000" stop-color="#00b200"/></linearGradient><linearGradient id="r126" gradientUnits="userSpaceOnUse" x1="301.6" y1="0" x2="970.8" y2="0"><stop offset="0.000" stop-color="#ee3206"/><stop offset="0.371" stop-color="#f52600"/><stop offset="0.406" stop-color="#f83600"/><stop offset="0.439" stop-color="#f84000"/><stop offset="0.480" stop-color="#f06800"/><stop offset="0.536" stop-color="#e29800"/><stop offset="0.559" stop-color="#d8b000"/><stop offset="0.582" stop-color="#c8c800"/><stop offset="0.622" stop-color="#80be00"/><stop offset="0.671" stop-color="#00b400"/><stop offset="1.000" stop-color="#00b200"/></linearGradient><linearGradient id="r127" gradientUnits="userSpaceOnUse" x1="302.4" y1="0" x2="975.8" y2="0"><stop offset="0.000" stop-color="#ee3206"/><stop offset="0.368" stop-color="#f52600"/><stop offset="0.404" stop-color="#f83600"/><stop offset="0.434" stop-color="#f84000"/><stop offset="0.474" stop-color="#f06800"/><stop offset="0.532" stop-color="#e29800"/><stop offset="0.555" stop-color="#d8b000"/><stop offset="0.579" stop-color="#c8c800"/><stop offset="0.621" stop-color="#80be00"/><stop offset="0.673" stop-color="#00b400"/><stop offset="1.000" stop-color="#00b200"/></linearGradient><linearGradient id="r128" gradientUnits="userSpaceOnUse" x1="303.3" y1="0" x2="980.8" y2="0"><stop offset="0.000" stop-color="#ee3206"/><stop offset="0.366" stop-color="#f52600"/><stop offset="0.401" stop-color="#f83600"/><stop offset="0.429" stop-color="#f84000"/><stop offset="0.467" stop-color="#f06800"/><stop offset="0.528" stop-color="#e29800"/><stop offset="0.552" stop-color="#d8b000"/><stop offset="0.576" stop-color="#c8c800"/><stop offset="0.621" stop-color="#80be00"/><stop offset="0.675" stop-color="#00b400"/><stop offset="1.000" stop-color="#00b200"/></linearGradient><linearGradient id="r129" gradientUnits="userSpaceOnUse" x1="304.1" y1="0" x2="985.8" y2="0"><stop offset="0.000" stop-color="#ee3206"/><stop offset="0.364" stop-color="#f52600"/><stop offset="0.399" stop-color="#f83600"/><stop offset="0.425" stop-color="#f84000"/><stop offset="0.460" stop-color="#f06800"/><stop offset="0.524" stop-color="#e29800"/><stop offset="0.548" stop-color="#d8b000"/><stop offset="0.573" stop-color="#c8c800"/><stop offset="0.620" stop-color="#80be00"/><stop offset="0.677" stop-color="#00b400"/><stop offset="1.000" stop-color="#00b200"/></linearGradient><linearGradient id="r130" gradientUnits="userSpaceOnUse" x1="304.9" y1="0" x2="990.8" y2="0"><stop offset="0.000" stop-color="#ee3206"/><stop offset="0.362" stop-color="#f52600"/><stop offset="0.397" stop-color="#f83600"/><stop offset="0.420" stop-color="#f84000"/><stop offset="0.454" stop-color="#f06800"/><stop offset="0.520" stop-color="#e29800"/><stop offset="0.545" stop-color="#d8b000"/><stop offset="0.570" stop-color="#c8c800"/><stop offset="0.619" stop-color="#80be00"/><stop offset="0.679" stop-color="#00b400"/><stop offset="1.000" stop-color="#00b200"/></linearGradient><linearGradient id="r131" gradientUnits="userSpaceOnUse" x1="305.8" y1="0" x2="995.8" y2="0"><stop offset="0.000" stop-color="#ee3206"/><stop offset="0.359" stop-color="#f52600"/><stop offset="0.394" stop-color="#f83600"/><stop offset="0.416" stop-color="#f84000"/><stop offset="0.447" stop-color="#f06800"/><stop offset="0.516" stop-color="#e29800"/><stop offset="0.542" stop-color="#d8b000"/><stop offset="0.567" stop-color="#c8c800"/><stop offset="0.619" stop-color="#80be00"/><stop offset="0.681" stop-color="#00b400"/><stop offset="1.000" stop-color="#00b200"/></linearGradient><linearGradient id="r132" gradientUnits="userSpaceOnUse" x1="306.6" y1="0" x2="1000.8" y2="0"><stop offset="0.000" stop-color="#ee3206"/><stop offset="0.357" stop-color="#f52600"/><stop offset="0.392" stop-color="#f83600"/><stop offset="0.411" stop-color="#f84000"/><stop offset="0.441" stop-color="#f06800"/><stop offset="0.513" stop-color="#e29800"/><stop offset="0.539" stop-color="#d8b000"/><stop offset="0.564" stop-color="#c8c800"/><stop offset="0.618" stop-color="#80be00"/><stop offset="0.683" stop-color="#00b400"/><stop offset="1.000" stop-color="#00b200"/></linearGradient><linearGradient id="r133" gradientUnits="userSpaceOnUse" x1="307.5" y1="0" x2="1005.8" y2="0"><stop offset="0.000" stop-color="#ee3206"/><stop offset="0.355" stop-color="#f52600"/><stop offset="0.389" stop-color="#f83600"/><stop offset="0.407" stop-color="#f84000"/><stop offset="0.435" stop-color="#f06800"/><stop offset="0.509" stop-color="#e29800"/><stop offset="0.535" stop-color="#d8b000"/><stop offset="0.562" stop-color="#c8c800"/><stop offset="0.617" stop-color="#80be00"/><stop offset="0.685" stop-color="#00b400"/><stop offset="1.000" stop-color="#00b200"/></linearGradient><linearGradient id="r134" gradientUnits="userSpaceOnUse" x1="308.3" y1="0" x2="1010.8" y2="0"><stop offset="0.000" stop-color="#ee3206"/><stop offset="0.353" stop-color="#f52600"/><stop offset="0.387" stop-color="#f83600"/><stop offset="0.402" stop-color="#f84000"/><stop offset="0.429" stop-color="#f06800"/><stop offset="0.505" stop-color="#e29800"/><stop offset="0.532" stop-color="#d8b000"/><stop offset="0.559" stop-color="#c8c800"/><stop offset="0.616" stop-color="#80be00"/><stop offset="0.687" stop-color="#00b400"/><stop offset="1.000" stop-color="#00b200"/></linearGradient><linearGradient id="r135" gradientUnits="userSpaceOnUse" x1="308.9" y1="0" x2="1015.9" y2="0"><stop offset="0.000" stop-color="#ee3206"/><stop offset="0.351" stop-color="#f52600"/><stop offset="0.385" stop-color="#f83600"/><stop offset="0.398" stop-color="#f84000"/><stop offset="0.423" stop-color="#f06800"/><stop offset="0.502" stop-color="#e29800"/><stop offset="0.529" stop-color="#d8b000"/><stop offset="0.556" stop-color="#c8c800"/><stop offset="0.616" stop-color="#80be00"/><stop offset="0.689" stop-color="#00b400"/><stop offset="1.000" stop-color="#00b200"/></linearGradient><linearGradient id="r136" gradientUnits="userSpaceOnUse" x1="308.6" y1="0" x2="1021" y2="0"><stop offset="0.000" stop-color="#ee3206"/><stop offset="0.348" stop-color="#f52600"/><stop offset="0.382" stop-color="#f83600"/><stop offset="0.395" stop-color="#f84000"/><stop offset="0.419" stop-color="#f06800"/><stop offset="0.498" stop-color="#e29800"/><stop offset="0.526" stop-color="#d8b000"/><stop offset="0.555" stop-color="#c8c800"/><stop offset="0.616" stop-color="#80be00"/><stop offset="0.691" stop-color="#00b400"/><stop offset="1.000" stop-color="#00b200"/></linearGradient><linearGradient id="r137" gradientUnits="userSpaceOnUse" x1="308.2" y1="0" x2="1026.2" y2="0"><stop offset="0.000" stop-color="#ee3206"/><stop offset="0.345" stop-color="#f52600"/><stop offset="0.379" stop-color="#f83600"/><stop offset="0.391" stop-color="#f84000"/><stop offset="0.415" stop-color="#f06800"/><stop offset="0.494" stop-color="#e29800"/><stop offset="0.524" stop-color="#d8b000"/><stop offset="0.553" stop-color="#c8c800"/><stop offset="0.617" stop-color="#80be00"/><stop offset="0.694" stop-color="#00b400"/><stop offset="1.000" stop-color="#00b200"/></linearGradient><linearGradient id="r138" gradientUnits="userSpaceOnUse" x1="307.8" y1="0" x2="1031.3" y2="0"><stop offset="0.000" stop-color="#ee3206"/><stop offset="0.343" stop-color="#f52600"/><stop offset="0.376" stop-color="#f83600"/><stop offset="0.388" stop-color="#f84000"/><stop offset="0.411" stop-color="#f06800"/><stop offset="0.490" stop-color="#e29800"/><stop offset="0.521" stop-color="#d8b000"/><stop offset="0.552" stop-color="#c8c800"/><stop offset="0.617" stop-color="#80be00"/><stop offset="0.696" stop-color="#00b400"/><stop offset="1.000" stop-color="#00b200"/></linearGradient><linearGradient id="r139" gradientUnits="userSpaceOnUse" x1="307.4" y1="0" x2="1036.5" y2="0"><stop offset="0.000" stop-color="#ee3206"/><stop offset="0.340" stop-color="#f52600"/><stop offset="0.373" stop-color="#f83600"/><stop offset="0.385" stop-color="#f84000"/><stop offset="0.407" stop-color="#f06800"/><stop offset="0.486" stop-color="#e29800"/><stop offset="0.519" stop-color="#d8b000"/><stop offset="0.551" stop-color="#c8c800"/><stop offset="0.617" stop-color="#80be00"/><stop offset="0.698" stop-color="#00b400"/><stop offset="1.000" stop-color="#00b200"/></linearGradient><linearGradient id="r140" gradientUnits="userSpaceOnUse" x1="307.1" y1="0" x2="1041.6" y2="0"><stop offset="0.000" stop-color="#ee3206"/><stop offset="0.338" stop-color="#f52600"/><stop offset="0.370" stop-color="#f83600"/><stop offset="0.381" stop-color="#f84000"/><stop offset="0.404" stop-color="#f06800"/><stop offset="0.483" stop-color="#e29800"/><stop offset="0.516" stop-color="#d8b000"/><stop offset="0.549" stop-color="#c8c800"/><stop offset="0.617" stop-color="#80be00"/><stop offset="0.701" stop-color="#00b400"/><stop offset="1.000" stop-color="#00b200"/></linearGradient><linearGradient id="r141" gradientUnits="userSpaceOnUse" x1="306.7" y1="0" x2="1046.8" y2="0"><stop offset="0.000" stop-color="#ee3206"/><stop offset="0.335" stop-color="#f52600"/><stop offset="0.368" stop-color="#f83600"/><stop offset="0.378" stop-color="#f84000"/><stop offset="0.400" stop-color="#f06800"/><stop offset="0.479" stop-color="#e29800"/><stop offset="0.513" stop-color="#d8b000"/><stop offset="0.548" stop-color="#c8c800"/><stop offset="0.618" stop-color="#80be00"/><stop offset="0.703" stop-color="#00b400"/><stop offset="1.000" stop-color="#00b200"/></linearGradient><linearGradient id="r142" gradientUnits="userSpaceOnUse" x1="306.3" y1="0" x2="1052" y2="0"><stop offset="0.000" stop-color="#ee3206"/><stop offset="0.333" stop-color="#f52600"/><stop offset="0.365" stop-color="#f83600"/><stop offset="0.375" stop-color="#f84000"/><stop offset="0.396" stop-color="#f06800"/><stop offset="0.476" stop-color="#e29800"/><stop offset="0.511" stop-color="#d8b000"/><stop offset="0.547" stop-color="#c8c800"/><stop offset="0.618" stop-color="#80be00"/><stop offset="0.705" stop-color="#00b400"/><stop offset="1.000" stop-color="#00b200"/></linearGradient><linearGradient id="r143" gradientUnits="userSpaceOnUse" x1="305.9" y1="0" x2="1057.1" y2="0"><stop offset="0.000" stop-color="#ee3206"/><stop offset="0.330" stop-color="#f52600"/><stop offset="0.362" stop-color="#f83600"/><stop offset="0.372" stop-color="#f84000"/><stop offset="0.393" stop-color="#f06800"/><stop offset="0.472" stop-color="#e29800"/><stop offset="0.509" stop-color="#d8b000"/><stop offset="0.545" stop-color="#c8c800"/><stop offset="0.618" stop-color="#80be00"/><stop offset="0.707" stop-color="#00b400"/><stop offset="1.000" stop-color="#00b200"/></linearGradient><linearGradient id="r144" gradientUnits="userSpaceOnUse" x1="305.6" y1="0" x2="1062.3" y2="0"><stop offset="0.000" stop-color="#ee3206"/><stop offset="0.328" stop-color="#f52600"/><stop offset="0.359" stop-color="#f83600"/><stop offset="0.369" stop-color="#f84000"/><stop offset="0.389" stop-color="#f06800"/><stop offset="0.469" stop-color="#e29800"/><stop offset="0.506" stop-color="#d8b000"/><stop offset="0.544" stop-color="#c8c800"/><stop offset="0.618" stop-color="#80be00"/><stop offset="0.709" stop-color="#00b400"/><stop offset="1.000" stop-color="#00b200"/></linearGradient><linearGradient id="r145" gradientUnits="userSpaceOnUse" x1="305.2" y1="0" x2="1067.4" y2="0"><stop offset="0.000" stop-color="#ee3206"/><stop offset="0.325" stop-color="#f52600"/><stop offset="0.357" stop-color="#f83600"/><stop offset="0.366" stop-color="#f84000"/><stop offset="0.386" stop-color="#f06800"/><stop offset="0.465" stop-color="#e29800"/><stop offset="0.504" stop-color="#d8b000"/><stop offset="0.543" stop-color="#c8c800"/><stop offset="0.619" stop-color="#80be00"/><stop offset="0.711" stop-color="#00b400"/><stop offset="1.000" stop-color="#00b200"/></linearGradient><linearGradient id="r146" gradientUnits="userSpaceOnUse" x1="307" y1="0" x2="1072.3" y2="0"><stop offset="0.000" stop-color="#ee3206"/><stop offset="0.324" stop-color="#f52600"/><stop offset="0.355" stop-color="#f83600"/><stop offset="0.364" stop-color="#f84000"/><stop offset="0.384" stop-color="#f06800"/><stop offset="0.463" stop-color="#e29800"/><stop offset="0.502" stop-color="#d8b000"/><stop offset="0.542" stop-color="#c8c800"/><stop offset="0.619" stop-color="#80be00"/><stop offset="0.713" stop-color="#00b400"/><stop offset="1.000" stop-color="#00b200"/></linearGradient><linearGradient id="r147" gradientUnits="userSpaceOnUse" x1="311" y1="0" x2="1076.9" y2="0"><stop offset="0.000" stop-color="#ee3206"/><stop offset="0.324" stop-color="#f52600"/><stop offset="0.355" stop-color="#f83600"/><stop offset="0.364" stop-color="#f84000"/><stop offset="0.385" stop-color="#f06800"/><stop offset="0.462" stop-color="#e29800"/><stop offset="0.502" stop-color="#d8b000"/><stop offset="0.541" stop-color="#c8c800"/><stop offset="0.618" stop-color="#80be00"/><stop offset="0.713" stop-color="#00b400"/><stop offset="1.000" stop-color="#00b200"/></linearGradient><linearGradient id="r148" gradientUnits="userSpaceOnUse" x1="314.9" y1="0" x2="1081.5" y2="0"><stop offset="0.000" stop-color="#ee3206"/><stop offset="0.323" stop-color="#f52600"/><stop offset="0.355" stop-color="#f83600"/><stop offset="0.364" stop-color="#f84000"/><stop offset="0.385" stop-color="#f06800"/><stop offset="0.462" stop-color="#e29800"/><stop offset="0.501" stop-color="#d8b000"/><stop offset="0.540" stop-color="#c8c800"/><stop offset="0.618" stop-color="#80be00"/><stop offset="0.713" stop-color="#00b400"/><stop offset="1.000" stop-color="#00b200"/></linearGradient><linearGradient id="r149" gradientUnits="userSpaceOnUse" x1="318.9" y1="0" x2="1086.2" y2="0"><stop offset="0.000" stop-color="#ee3206"/><stop offset="0.323" stop-color="#f52600"/><stop offset="0.355" stop-color="#f83600"/><stop offset="0.364" stop-color="#f84000"/><stop offset="0.385" stop-color="#f06800"/><stop offset="0.461" stop-color="#e29800"/><stop offset="0.500" stop-color="#d8b000"/><stop offset="0.539" stop-color="#c8c800"/><stop offset="0.618" stop-color="#80be00"/><stop offset="0.713" stop-color="#00b400"/><stop offset="1.000" stop-color="#00b200"/></linearGradient><linearGradient id="r150" gradientUnits="userSpaceOnUse" x1="322.9" y1="0" x2="1090.8" y2="0"><stop offset="0.000" stop-color="#ee3206"/><stop offset="0.323" stop-color="#f52600"/><stop offset="0.354" stop-color="#f83600"/><stop offset="0.364" stop-color="#f84000"/><stop offset="0.385" stop-color="#f06800"/><stop offset="0.460" stop-color="#e29800"/><stop offset="0.499" stop-color="#d8b000"/><stop offset="0.539" stop-color="#c8c800"/><stop offset="0.617" stop-color="#80be00"/><stop offset="0.714" stop-color="#00b400"/><stop offset="1.000" stop-color="#00b200"/></linearGradient><linearGradient id="r151" gradientUnits="userSpaceOnUse" x1="326.8" y1="0" x2="1095.4" y2="0"><stop offset="0.000" stop-color="#ee3206"/><stop offset="0.323" stop-color="#f52600"/><stop offset="0.354" stop-color="#f83600"/><stop offset="0.364" stop-color="#f84000"/><stop offset="0.386" stop-color="#f06800"/><stop offset="0.460" stop-color="#e29800"/><stop offset="0.499" stop-color="#d8b000"/><stop offset="0.538" stop-color="#c8c800"/><stop offset="0.617" stop-color="#80be00"/><stop offset="0.714" stop-color="#00b400"/><stop offset="1.000" stop-color="#00b200"/></linearGradient><linearGradient id="r152" gradientUnits="userSpaceOnUse" x1="330.8" y1="0" x2="1100" y2="0"><stop offset="0.000" stop-color="#ee3206"/><stop offset="0.322" stop-color="#f52600"/><stop offset="0.354" stop-color="#f83600"/><stop offset="0.364" stop-color="#f84000"/><stop offset="0.386" stop-color="#f06800"/><stop offset="0.459" stop-color="#e29800"/><stop offset="0.498" stop-color="#d8b000"/><stop offset="0.537" stop-color="#c8c800"/><stop offset="0.617" stop-color="#80be00"/><stop offset="0.714" stop-color="#00b400"/><stop offset="1.000" stop-color="#00b200"/></linearGradient><linearGradient id="r153" gradientUnits="userSpaceOnUse" x1="334.8" y1="0" x2="1104.6" y2="0"><stop offset="0.000" stop-color="#ee3206"/><stop offset="0.322" stop-color="#f52600"/><stop offset="0.353" stop-color="#f83600"/><stop offset="0.364" stop-color="#f84000"/><stop offset="0.386" stop-color="#f06800"/><stop offset="0.458" stop-color="#e29800"/><stop offset="0.497" stop-color="#d8b000"/><stop offset="0.536" stop-color="#c8c800"/><stop offset="0.616" stop-color="#80be00"/><stop offset="0.714" stop-color="#00b400"/><stop offset="1.000" stop-color="#00b200"/></linearGradient><linearGradient id="r154" gradientUnits="userSpaceOnUse" x1="338.7" y1="0" x2="1109.2" y2="0"><stop offset="0.000" stop-color="#ee3206"/><stop offset="0.322" stop-color="#f52600"/><stop offset="0.353" stop-color="#f83600"/><stop offset="0.364" stop-color="#f84000"/><stop offset="0.386" stop-color="#f06800"/><stop offset="0.458" stop-color="#e29800"/><stop offset="0.496" stop-color="#d8b000"/><stop offset="0.535" stop-color="#c8c800"/><stop offset="0.616" stop-color="#80be00"/><stop offset="0.714" stop-color="#00b400"/><stop offset="1.000" stop-color="#00b200"/></linearGradient><linearGradient id="r155" gradientUnits="userSpaceOnUse" x1="342.7" y1="0" x2="1113.8" y2="0"><stop offset="0.000" stop-color="#ee3206"/><stop offset="0.322" stop-color="#f52600"/><stop offset="0.353" stop-color="#f83600"/><stop offset="0.364" stop-color="#f84000"/><stop offset="0.386" stop-color="#f06800"/><stop offset="0.457" stop-color="#e29800"/><stop offset="0.496" stop-color="#d8b000"/><stop offset="0.535" stop-color="#c8c800"/><stop offset="0.616" stop-color="#80be00"/><stop offset="0.715" stop-color="#00b400"/><stop offset="1.000" stop-color="#00b200"/></linearGradient><linearGradient id="r156" gradientUnits="userSpaceOnUse" x1="346.7" y1="0" x2="1118.5" y2="0"><stop offset="0.000" stop-color="#ee3206"/><stop offset="0.321" stop-color="#f52600"/><stop offset="0.352" stop-color="#f83600"/><stop offset="0.364" stop-color="#f84000"/><stop offset="0.387" stop-color="#f06800"/><stop offset="0.456" stop-color="#e29800"/><stop offset="0.495" stop-color="#d8b000"/><stop offset="0.534" stop-color="#c8c800"/><stop offset="0.615" stop-color="#80be00"/><stop offset="0.715" stop-color="#00b400"/><stop offset="1.000" stop-color="#00b200"/></linearGradient><linearGradient id="r157" gradientUnits="userSpaceOnUse" x1="349.3" y1="0" x2="1122.2" y2="0"><stop offset="0.000" stop-color="#ee3206"/><stop offset="0.321" stop-color="#f52600"/><stop offset="0.352" stop-color="#f83600"/><stop offset="0.364" stop-color="#f84000"/><stop offset="0.387" stop-color="#f06800"/><stop offset="0.456" stop-color="#e29800"/><stop offset="0.495" stop-color="#d8b000"/><stop offset="0.534" stop-color="#c8c800"/><stop offset="0.615" stop-color="#80be00"/><stop offset="0.715" stop-color="#00b400"/><stop offset="1.000" stop-color="#00b200"/></linearGradient><linearGradient id="r158" gradientUnits="userSpaceOnUse" x1="351.2" y1="0" x2="1125.4" y2="0"><stop offset="0.000" stop-color="#ee3206"/><stop offset="0.320" stop-color="#f52600"/><stop offset="0.351" stop-color="#f83600"/><stop offset="0.364" stop-color="#f84000"/><stop offset="0.386" stop-color="#f06800"/><stop offset="0.456" stop-color="#e29800"/><stop offset="0.494" stop-color="#d8b000"/><stop offset="0.533" stop-color="#c8c800"/><stop offset="0.615" stop-color="#80be00"/><stop offset="0.716" stop-color="#00b400"/><stop offset="1.000" stop-color="#00b200"/></linearGradient><linearGradient id="r159" gradientUnits="userSpaceOnUse" x1="353.2" y1="0" x2="1128.6" y2="0"><stop offset="0.000" stop-color="#ee3206"/><stop offset="0.320" stop-color="#f52600"/><stop offset="0.351" stop-color="#f83600"/><stop offset="0.363" stop-color="#f84000"/><stop offset="0.386" stop-color="#f06800"/><stop offset="0.456" stop-color="#e29800"/><stop offset="0.494" stop-color="#d8b000"/><stop offset="0.533" stop-color="#c8c800"/><stop offset="0.615" stop-color="#80be00"/><stop offset="0.716" stop-color="#00b400"/><stop offset="1.000" stop-color="#00b200"/></linearGradient><linearGradient id="r160" gradientUnits="userSpaceOnUse" x1="355.1" y1="0" x2="1131.9" y2="0"><stop offset="0.000" stop-color="#ee3206"/><stop offset="0.319" stop-color="#f52600"/><stop offset="0.350" stop-color="#f83600"/><stop offset="0.363" stop-color="#f84000"/><stop offset="0.385" stop-color="#f06800"/><stop offset="0.455" stop-color="#e29800"/><stop offset="0.494" stop-color="#d8b000"/><stop offset="0.533" stop-color="#c8c800"/><stop offset="0.616" stop-color="#80be00"/><stop offset="0.717" stop-color="#00b400"/><stop offset="1.000" stop-color="#00b200"/></linearGradient><linearGradient id="r161" gradientUnits="userSpaceOnUse" x1="357.1" y1="0" x2="1135.1" y2="0"><stop offset="0.000" stop-color="#ee3206"/><stop offset="0.319" stop-color="#f52600"/><stop offset="0.350" stop-color="#f83600"/><stop offset="0.362" stop-color="#f84000"/><stop offset="0.385" stop-color="#f06800"/><stop offset="0.455" stop-color="#e29800"/><stop offset="0.494" stop-color="#d8b000"/><stop offset="0.532" stop-color="#c8c800"/><stop offset="0.616" stop-color="#80be00"/><stop offset="0.717" stop-color="#00b400"/><stop offset="1.000" stop-color="#00b200"/></linearGradient><linearGradient id="r162" gradientUnits="userSpaceOnUse" x1="359" y1="0" x2="1138.4" y2="0"><stop offset="0.000" stop-color="#ee3206"/><stop offset="0.318" stop-color="#f52600"/><stop offset="0.349" stop-color="#f83600"/><stop offset="0.362" stop-color="#f84000"/><stop offset="0.385" stop-color="#f06800"/><stop offset="0.455" stop-color="#e29800"/><stop offset="0.494" stop-color="#d8b000"/><stop offset="0.532" stop-color="#c8c800"/><stop offset="0.616" stop-color="#80be00"/><stop offset="0.718" stop-color="#00b400"/><stop offset="1.000" stop-color="#00b200"/></linearGradient><clipPath id="pc"><rect x="223.5" y="1637.8" width="1359" height="1097.4"/></clipPath></defs>
<g filter="url(#b1)" fill="none" stroke-linecap="butt">
<line x1="752" y1="842" x2="752" y2="150" stroke="#00d800" stroke-width="8.5"/>
<path d="M752,90 C756,110 762,130 772,152 Q753,159 734,152 C744,130 748,110 752,90Z" fill="#00d800" stroke="none"/>
<line x1="820" y1="854" x2="1400" y2="971.5" stroke="#ff0a14" stroke-width="8"/>
<path d="M1449,981 L1392,952.5 Q1389,972 1390,990 Z" fill="#ff0a14" stroke="none"/>
<path d="M431.9,316.5 L409.6,331 L388.2,346.9 L367.7,364.2 L348.4,382.7 L330.1,402.5 L312.9,423.5 L297,445.7 L282.3,468.9 L268.9,493.1 L256.8,518.3 L246,544.4 L236.6,571.3 L228.7,598.9 L222.1,627.2 L217,656 L213.3,685.4 L211.2,715.1 L210.4,745.3 L211.2,775.6 L213.4,806.2 L217.1,836.8 L222.3,867.5 L228.9,898.1 L236.9,928.5 L246.4,958.7 L257.2,988.5 L269.3,1017.9 L282.8,1046.9 L297.5,1075.3 L313.5,1103 L330.7,1130 L349,1156.2 L368.4,1181.6 L388.9,1206 L410.3,1229.4 L432.7,1251.7 L455.9,1272.9 L479.9,1292.9 L504.7,1311.7 L530.1,1329.2 L556.2,1345.3 L582.7,1360.1 L609.8,1373.4 L637.2,1385.3 L664.9,1395.6 L692.8,1404.5 L720.9,1411.8 L749.1,1417.5 L777.2,1421.6 L805.3,1424.2 L833.3,1425.1 L860.9,1424.5 L888.3,1422.2 L915.3,1418.3 L941.9,1412.9 L967.9,1405.9 L993.3,1397.3 L1018.1,1387.2 L1042.1,1375.6 L1065.3,1362.5 L1087.6,1348 L1109,1332.1 L1129.5,1314.8 L1148.8,1296.3 L1167.1,1276.5 L1184.3,1255.5 L1200.2,1233.3 L1214.9,1210.1 L1228.3,1185.9 L1240.4,1160.7 L1251.2,1134.6 L1260.6,1107.7 L1268.5,1080.1 L1275.1,1051.8 L1280.2,1023 L1283.9,993.6 L1286,963.9 L1286.8,933.7 L1286,903.4 L1283.8,872.8 L1280.1,842.2 L1274.9,811.5 L1268.3,780.9 L1260.3,750.5 L1250.8,720.3 L1240,690.5 L1227.9,661.1 L1214.4,632.1 L1199.7,603.7 L1183.7,576 L1166.5,549 L1148.2,522.8 L1128.8,497.4 L1108.3,473 L1086.9,449.6 L1064.5,427.3 L1041.3,406.1 L1017.3,386.1 L992.5,367.3 L967.1,349.8 L941,333.7 L914.5,318.9 L887.4,305.6 L860,293.7 L832.3,283.4 L804.4,274.5 L776.3,267.2 L748.1,261.5 L720,257.4 L691.9,254.8 L663.9,253.9 L636.3,254.5 L608.9,256.8 L581.9,260.7 L555.3,266.1 L529.3,273.1 L503.9,281.7 L479.1,291.8 L455.1,303.4 L431.9,316.5Z" stroke="#4242ff" stroke-width="6.2"/>
<path d="M129,839.4 L129.7,850.4 L132.1,861.4 L136.2,872.3 L142,883.2 L149.4,894 L158.5,904.6 L169.1,915.1 L181.4,925.4 L195.2,935.4 L210.4,945.3 L227.2,954.8 L245.4,964.1 L264.9,973 L285.8,981.6 L307.9,989.8 L331.3,997.6 L355.7,1005 L381.3,1012 L407.8,1018.5 L435.3,1024.6 L463.6,1030.1 L492.6,1035.2 L522.4,1039.7 L552.8,1043.7 L583.7,1047.2 L615.1,1050.1 L646.8,1052.5 L678.8,1054.2 L710.9,1055.5 L743.2,1056.1 L775.5,1056.2 L807.7,1055.7 L839.7,1054.6 L871.4,1052.9 L902.8,1050.7 L933.8,1047.9 L964.3,1044.6 L994.2,1040.7 L1023.3,1036.3 L1051.8,1031.4 L1079.3,1025.9 L1106,1020 L1131.7,1013.6 L1156.3,1006.7 L1179.8,999.4 L1202.1,991.7 L1223.2,983.6 L1242.9,975.1 L1261.3,966.2 L1278.3,957 L1293.8,947.6 L1307.8,937.8 L1320.2,927.8 L1331.1,917.5 L1340.4,907.1 L1348,896.5 L1354.1,885.8 L1358.4,874.9 L1361,864 L1362,853 L1361.3,842 L1358.9,831 L1354.8,820.1 L1349,809.2 L1341.6,798.4 L1332.5,787.8 L1321.9,777.3 L1309.6,767 L1295.8,757 L1280.6,747.1 L1263.8,737.6 L1245.6,728.3 L1226.1,719.4 L1205.2,710.8 L1183.1,702.6 L1159.7,694.8 L1135.3,687.4 L1109.7,680.4 L1083.2,673.9 L1055.7,667.8 L1027.4,662.3 L998.4,657.2 L968.6,652.7 L938.2,648.7 L907.3,645.2 L875.9,642.3 L844.2,639.9 L812.2,638.2 L780.1,636.9 L747.8,636.3 L715.5,636.2 L683.3,636.7 L651.3,637.8 L619.6,639.5 L588.2,641.7 L557.2,644.5 L526.7,647.8 L496.8,651.7 L467.7,656.1 L439.2,661 L411.7,666.5 L385,672.4 L359.3,678.8 L334.7,685.7 L311.2,693 L288.9,700.7 L267.8,708.8 L248.1,717.3 L229.7,726.2 L212.7,735.4 L197.2,744.8 L183.2,754.6 L170.8,764.6 L159.9,774.9 L150.6,785.3 L143,795.9 L136.9,806.6 L132.6,817.5 L130,828.4 L129,839.4Z" stroke="#00d800" stroke-width="6.2"/>
</g>
<g filter="url(#b2)"><g clip-path="url(#bc)">
<rect x="340" y="394" width="640" height="6.5" fill="url(#r0)"/><rect x="340" y="400" width="640" height="6.5" fill="url(#r1)"/><rect x="340" y="406" width="640" height="6.5" fill="url(#r2)"/><rect x="340" y="412" width="640" height="6.5" fill="url(#r3)"/><rect x="340" y="418" width="640" height="6.5" fill="url(#r4)"/><rect x="340" y="424" width="640" height="6.5" fill="url(#r5)"/><rect x="340" y="430" width="640" height="6.5" fill="url(#r6)"/><rect x="340" y="436" width="640" height="6.5" fill="url(#r7)"/><rect x="340" y="442" width="640" height="6.5" fill="url(#r8)"/><rect x="340" y="448" width="640" height="6.5" fill="url(#r9)"/><rect x="340" y="454" width="640" height="6.5" fill="url(#r10)"/><rect x="340" y="460" width="640" height="6.5" fill="url(#r11)"/><rect x="340" y="466" width="640" height="6.5" fill="url(#r12)"/><rect x="340" y="472" width="640" height="6.5" fill="url(#r13)"/><rect x="340" y="478" width="640" height="6.5" fill="url(#r14)"/><rect x="340" y="484" width="640" height="6.5" fill="url(#r15)"/><rect x="340" y="490" width="640" height="6.5" fill="url(#r16)"/><rect x="340" y="496" width="640" height="6.5" fill="url(#r17)"/><rect x="340" y="502" width="640" height="6.5" fill="url(#r18)"/><rect x="340" y="508" width="640" height="6.5" fill="url(#r19)"/><rect x="340" y="514" width="640" height="6.5" fill="url(#r20)"/><rect x="340" y="520" width="640" height="6.5" fill="url(#r21)"/><rect x="340" y="526" width="640" height="6.5" fill="url(#r22)"/><rect x="340" y="532" width="640" height="6.5" fill="url(#r23)"/><rect x="340" y="538" width="640" height="6.5" fill="url(#r24)"/><rect x="340" y="544" width="640" height="6.5" fill="url(#r25)"/><rect x="340" y="550" width="640" height="6.5" fill="url(#r26)"/><rect x="340" y="556" width="640" height="6.5" fill="url(#r27)"/><rect x="340" y="562" width="640" height="6.5" fill="url(#r28)"/><rect x="340" y="568" width="640" height="6.5" fill="url(#r29)"/><rect x="340" y="574" width="640" height="6.5" fill="url(#r30)"/><rect x="340" y="580" width="640" height="6.5" fill="url(#r31)"/><rect x="340" y="586" width="640" height="6.5" fill="url(#r32)"/><rect x="340" y="592" width="640" height="6.5" fill="url(#r33)"/><rect x="340" y="598" width="640" height="6.5" fill="url(#r34)"/><rect x="340" y="604" width="640" height="6.5" fill="url(#r35)"/><rect x="340" y="610" width="640" height="6.5" fill="url(#r36)"/><rect x="340" y="616" width="640" height="6.5" fill="url(#r37)"/><rect x="340" y="622" width="640" height="6.5" fill="url(#r38)"/><rect x="340" y="628" width="640" height="6.5" fill="url(#r39)"/><rect x="340" y="634" width="640" height="6.5" fill="url(#r40)"/><rect x="340" y="640" width="640" height="6.5" fill="url(#r41)"/><rect x="340" y="646" width="640" height="6.5" fill="url(#r42)"/><rect x="340" y="652" width="640" height="6.5" fill="url(#r43)"/><rect x="340" y="658" width="640" height="6.5" fill="url(#r44)"/><rect x="340" y="664" width="640" height="6.5" fill="url(#r45)"/><rect x="340" y="670" width="640" height="6.5" fill="url(#r46)"/><rect x="340" y="676" width="640" height="6.5" fill="url(#r47)"/><rect x="340" y="682" width="640" height="6.5" fill="url(#r48)"/><rect x="340" y="688" width="640" height="6.5" fill="url(#r49)"/><rect x="340" y="694" width="640" height="6.5" fill="url(#r50)"/><rect x="340" y="700" width="640" height="6.5" fill="url(#r51)"/><rect x="340" y="706" width="640" height="6.5" fill="url(#r52)"/><rect x="340" y="712" width="640" height="6.5" fill="url(#r53)"/><rect x="340" y="718" width="640" height="6.5" fill="url(#r54)"/><rect x="340" y="724" width="640" height="6.5" fill="url(#r55)"/><rect x="340" y="730" width="640" height="6.5" fill="url(#r56)"/><rect x="340" y="736" width="640" height="6.5" fill="url(#r57)"/><rect x="340" y="742" width="640" height="6.5" fill="url(#r58)"/><rect x="340" y="748" width="640" height="6.5" fill="url(#r59)"/><rect x="340" y="754" width="640" height="6.5" fill="url(#r60)"/><rect x="340" y="760" width="640" height="6.5" fill="url(#r61)"/><rect x="340" y="766" width="640" height="6.5" fill="url(#r62)"/><rect x="340" y="772" width="640" height="6.5" fill="url(#r63)"/><rect x="340" y="778" width="640" height="6.5" fill="url(#r64)"/><rect x="340" y="784" width="640" height="6.5" fill="url(#r65)"/><rect x="340" y="790" width="640" height="6.5" fill="url(#r66)"/><rect x="340" y="796" width="640" height="6.5" fill="url(#r67)"/><rect x="340" y="802" width="640" height="6.5" fill="url(#r68)"/><rect x="340" y="808" width="640" height="6.5" fill="url(#r69)"/><rect x="340" y="814" width="640" height="6.5" fill="url(#r70)"/><rect x="340" y="820" width="640" height="6.5" fill="url(#r71)"/><rect x="340" y="826" width="640" height="6.5" fill="url(#r72)"/><rect x="340" y="832" width="640" height="6.5" fill="url(#r73)"/><rect x="340" y="838" width="640" height="6.5" fill="url(#r74)"/><rect x="340" y="844" width="640" height="6.5" fill="url(#r75)"/><rect x="340" y="850" width="640" height="6.5" fill="url(#r76)"/><rect x="340" y="856" width="640" height="6.5" fill="url(#r77)"/><rect x="340" y="862" width="640" height="6.5" fill="url(#r78)"/><rect x="340" y="868" width="640" height="6.5" fill="url(#r79)"/><rect x="340" y="874" width="640" height="6.5" fill="url(#r80)"/><rect x="340" y="880" width="640" height="6.5" fill="url(#r81)"/><rect x="340" y="886" width="640" height="6.5" fill="url(#r82)"/><rect x="340" y="892" width="640" height="6.5" fill="url(#r83)"/><rect x="340" y="898" width="640" height="6.5" fill="url(#r84)"/><rect x="340" y="904" width="640" height="6.5" fill="url(#r85)"/><rect x="340" y="910" width="640" height="6.5" fill="url(#r86)"/><rect x="340" y="916" width="640" height="6.5" fill="url(#r87)"/><rect x="340" y="922" width="640" height="6.5" fill="url(#r88)"/><rect x="340" y="928" width="640" height="6.5" fill="url(#r89)"/><rect x="340" y="934" width="640" height="6.5" fill="url(#r90)"/><rect x="340" y="940" width="640" height="6.5" fill="url(#r91)"/><rect x="340" y="946" width="640" height="6.5" fill="url(#r92)"/><rect x="340" y="952" width="640" height="6.5" fill="url(#r93)"/><rect x="340" y="958" width="640" height="6.5" fill="url(#r94)"/><rect x="340" y="964" width="640" height="6.5" fill="url(#r95)"/><rect x="340" y="970" width="640" height="6.5" fill="url(#r96)"/><rect x="340" y="976" width="640" height="6.5" fill="url(#r97)"/><rect x="340" y="982" width="640" height="6.5" fill="url(#r98)"/><rect x="340" y="988" width="640" height="6.5" fill="url(#r99)"/><rect x="340" y="994" width="640" height="6.5" fill="url(#r100)"/><rect x="340" y="1000" width="640" height="6.5" fill="url(#r101)"/><rect x="340" y="1006" width="640" height="6.5" fill="url(#r102)"/><rect x="340" y="1012" width="640" height="6.5" fill="url(#r103)"/><rect x="340" y="1018" width="640" height="6.5" fill="url(#r104)"/><rect x="340" y="1024" width="640" height="6.5" fill="url(#r105)"/><rect x="340" y="1030" width="640" height="6.5" fill="url(#r106)"/><rect x="340" y="1036" width="640" height="6.5" fill="url(#r107)"/><rect x="340" y="1042" width="640" height="6.5" fill="url(#r108)"/><rect x="340" y="1048" width="640" height="6.5" fill="url(#r109)"/><rect x="340" y="1054" width="640" height="6.5" fill="url(#r110)"/><rect x="340" y="1060" width="640" height="6.5" fill="url(#r111)"/><rect x="340" y="1066" width="640" height="6.5" fill="url(#r112)"/><rect x="340" y="1072" width="640" height="6.5" fill="url(#r113)"/><rect x="340" y="1078" width="640" height="6.5" fill="url(#r114)"/><rect x="340" y="1084" width="640" height="6.5" fill="url(#r115)"/><rect x="340" y="1090" width="640" height="6.5" fill="url(#r116)"/><rect x="340" y="1096" width="640" height="6.5" fill="url(#r117)"/><rect x="340" y="1102" width="640" height="6.5" fill="url(#r118)"/><rect x="340" y="1108" width="640" height="6.5" fill="url(#r119)"/><rect x="340" y="1114" width="640" height="6.5" fill="url(#r120)"/><rect x="340" y="1120" width="640" height="6.5" fill="url(#r121)"/><rect x="340" y="1126" width="640" height="6.5" fill="url(#r122)"/><rect x="340" y="1132" width="640" height="6.5" fill="url(#r123)"/><rect x="340" y="1138" width="640" height="6.5" fill="url(#r124)"/><rect x="340" y="1144" width="640" height="6.5" fill="url(#r125)"/><rect x="340" y="1150" width="640" height="6.5" fill="url(#r126)"/><rect x="340" y="1156" width="640" height="6.5" fill="url(#r127)"/><rect x="340" y="1162" width="640" height="6.5" fill="url(#r128)"/><rect x="340" y="1168" width="640" height="6.5" fill="url(#r129)"/><rect x="340" y="1174" width="640" height="6.5" fill="url(#r130)"/><rect x="340" y="1180" width="640" height="6.5" fill="url(#r131)"/><rect x="340" y="1186" width="640" height="6.5" fill="url(#r132)"/><rect x="340" y="1192" width="640" height="6.5" fill="url(#r133)"/><rect x="340" y="1198" width="640" height="6.5" fill="url(#r134)"/><rect x="340" y="1204" width="640" height="6.5" fill="url(#r135)"/><rect x="340" y="1210" width="640" height="6.5" fill="url(#r136)"/><rect x="340" y="1216" width="640" height="6.5" fill="url(#r137)"/><rect x="340" y="1222" width="640" height="6.5" fill="url(#r138)"/><rect x="340" y="1228" width="640" height="6.5" fill="url(#r139)"/><rect x="340" y="1234" width="640" height="6.5" fill="url(#r140)"/><rect x="340" y="1240" width="640" height="6.5" fill="url(#r141)"/><rect x="340" y="1246" width="640" height="6.5" fill="url(#r142)"/><rect x="340" y="1252" width="640" height="6.5" fill="url(#r143)"/><rect x="340" y="1258" width="640" height="6.5" fill="url(#r144)"/><rect x="340" y="1264" width="640" height="6.5" fill="url(#r145)"/><rect x="340" y="1270" width="640" height="6.5" fill="url(#r146)"/><rect x="340" y="1276" width="640" height="6.5" fill="url(#r147)"/><rect x="340" y="1282" width="640" height="6.5" fill="url(#r148)"/><rect x="340" y="1288" width="640" height="6.5" fill="url(#r149)"/><rect x="340" y="1294" width="640" height="6.5" fill="url(#r150)"/><rect x="340" y="1300" width="640" height="6.5" fill="url(#r151)"/><rect x="340" y="1306" width="640" height="6.5" fill="url(#r152)"/><rect x="340" y="1312" width="640" height="6.5" fill="url(#r153)"/><rect x="340" y="1318" width="640" height="6.5" fill="url(#r154)"/><rect x="340" y="1324" width="640" height="6.5" fill="url(#r155)"/><rect x="340" y="1330" width="640" height="6.5" fill="url(#r156)"/><rect x="340" y="1336" width="640" height="6.5" fill="url(#r157)"/><rect x="340" y="1342" width="640" height="6.5" fill="url(#r158)"/><rect x="340" y="1348" width="640" height="6.5" fill="url(#r159)"/><rect x="340" y="1354" width="640" height="6.5" fill="url(#r160)"/><rect x="340" y="1360" width="640" height="6.5" fill="url(#r161)"/><rect x="340" y="1366" width="640" height="6.5" fill="url(#r162)"/>
<path d="M888,596 C884.5,599.2 876.8,611.4 873,620 C869.2,628.6 865.6,638.2 864,650 C862.4,661.8 862.4,682.5 863,694 C863.6,705.5 868.8,711.4 868,722 C867.2,732.6 860.6,749.1 858,760 C855.4,770.9 854.7,780.1 852,790 C849.3,799.9 847.9,811.2 841,822 C834.1,832.8 816.5,846.7 808.7,857.6 C800.9,868.5 797.6,877 792.4,890 C787.2,903 780.4,922.4 776,939 C771.6,955.6 767.1,976.1 765,993.5 C762.9,1010.9 761.4,1032.9 763,1048 C764.6,1063.1 767.7,1079 775,1088 C782.3,1097 796.4,1103 808.7,1104 C821,1105 840.9,1101 852,1094 C863.1,1087 871.6,1075 878,1060 C884.4,1045 878.9,1011.2 892,1000 C905.1,988.8 949.1,1017.2 960,990 C970.9,962.8 967.7,859.6 960,830 C952.3,800.4 918.7,818.6 912,805 C905.3,791.4 920.9,758.3 918,745 C915.1,731.7 897.7,745.2 894,722 C890.3,698.8 896,620.2 895,600 C894,579.8 891.5,592.8 888,596Z" fill="#00c6ae" filter="url(#b5)"/>
<g filter="url(#b8)">
<ellipse cx="914" cy="632" rx="22" ry="56" fill="#00c400"/>
<ellipse cx="936" cy="757" rx="20" ry="30" fill="#00b800"/>
<ellipse cx="915" cy="905" rx="16" ry="34" fill="#00b838"/>
<ellipse cx="888" cy="915" rx="20" ry="26" fill="#00d468"/>
<ellipse cx="814" cy="1022" rx="26" ry="40" fill="#00cc58"/>
<ellipse cx="857" cy="780" rx="12" ry="40" fill="#00a8dc" transform="rotate(12 856 785)"/>
<ellipse cx="806" cy="880" rx="14" ry="36" fill="#00b0d8" transform="rotate(25 806 882)"/>
<ellipse cx="870" cy="1060" rx="25" ry="45" fill="#00b400"/>
</g>
<g filter="url(#b12)">
<ellipse cx="470" cy="1000" rx="70" ry="110" fill="#ff0000" opacity="0.8"/>
<ellipse cx="500" cy="720" rx="45" ry="120" fill="#ff0800" opacity="0.6" transform="rotate(14 500 720)"/>
</g>
<rect x="340" y="390" width="640" height="140" fill="url(#shT)"/>
<rect x="340" y="1120" width="640" height="260" fill="url(#shB)"/>
<path d="M887.5,471.7 C884.5,468.2 874.5,455.7 868.5,450 C862.5,444.3 857.3,441 850,436 C842.7,431 834.2,424.2 823,418.7 C811.8,413.2 795.7,404.5 780,401.5 C764.3,398.5 739.4,400.2 725,400 C710.6,399.8 699.1,399.7 690,400 C680.9,400.3 676,400.4 668,402 C660,403.6 649.6,406.6 640,410 C630.4,413.4 620,415.5 608,423 C596,430.5 578.8,443.9 565,457 C551.2,470.1 535.8,487.7 522,505 C508.2,522.3 491.4,546.4 479,565 C466.6,583.6 453.5,602.4 444.5,621 C435.5,639.6 429.9,659.7 423,681 C416.1,702.3 407,730 401.5,754 C396,778 392.8,810.8 388.7,831 C384.6,851.2 378.8,866.2 376,880 C373.2,893.8 372.4,905.8 371,917 C369.6,928.2 367.5,939.9 367,950 C366.5,960.1 366.7,970.6 368,980 C369.3,989.4 371,990.6 375,1009 C379,1027.4 386.7,1068.9 393,1095 C399.3,1121.1 405.5,1147.2 414.5,1172 C423.5,1196.8 436.6,1227.9 449,1250 C461.4,1272.1 477,1295 492,1310 C507,1325 524.4,1335.8 543,1344 C561.6,1352.2 590.7,1357.9 608,1361 C625.3,1364.1 637.2,1365.2 651,1363.5 C664.8,1361.8 680.2,1357.1 694,1350.6 C707.8,1344.1 730.1,1327.2 737,1322.7" fill="none" stroke="#7a3000" stroke-opacity="0.42" stroke-width="28" stroke-linecap="round" filter="url(#b8)"/>
</g></g>
<g filter="url(#b1)" fill="none">
<path d="M859.1,239.8 L844.9,237.9 L830.4,237.6 L815.7,239 L800.8,242.1 L785.7,246.8 L770.6,253.1 L755.3,261 L740,270.5 L724.7,281.6 L709.4,294.2 L694.2,308.2 L679.2,323.8 L664.3,340.8 L649.7,359.1 L635.3,378.8 L621.2,399.7 L607.4,421.8 L594,445.1 L581,469.5 L568.5,494.8 L556.4,521.2 L544.8,548.4 L533.8,576.4 L523.3,605.1 L513.4,634.5 L504.2,664.4 L495.6,694.8 L487.7,725.6 L480.5,756.7 L474,788.1 L468.2,819.6 L463.2,851.2 L459,882.7 L455.5,914.1 L452.8,945.3 L450.9,976.2 L449.8,1006.8 L449.5,1036.9 L450,1066.4 L451.4,1095.3 L453.5,1123.6 L456.4,1151 L460,1177.6 L464.5,1203.3 L469.7,1228 L475.7,1251.6 L482.3,1274.1 L489.7,1295.4 L497.8,1315.5 L506.6,1334.2 L516,1351.7 L526,1367.7 L536.6,1382.2 L547.8,1395.3 L559.5,1406.8 L571.7,1416.8 L584.4,1425.2 L597.5,1432.1 L611,1437.2 L624.9,1440.8 L639.1,1442.7 L653.6,1443 L668.3,1441.6 L683.2,1438.5 L698.3,1433.8 L713.4,1427.5 L728.7,1419.6 L744,1410.1 L759.3,1399 L774.6,1386.4 L789.8,1372.4 L804.8,1356.8 L819.7,1339.8 L834.3,1321.5 L848.7,1301.8 L862.8,1280.9 L876.6,1258.8 L890,1235.5 L903,1211.1 L915.5,1185.8 L927.6,1159.4 L939.2,1132.2 L950.2,1104.2 L960.7,1075.5 L970.6,1046.1 L979.8,1016.2 L988.4,985.8 L996.3,955 L1003.5,923.9 L1010,892.5 L1015.8,861 L1020.8,829.4 L1025,797.9 L1028.5,766.5 L1031.2,735.3 L1033.1,704.4 L1034.2,673.8 L1034.5,643.7 L1034,614.2 L1032.6,585.3 L1030.5,557 L1027.6,529.6 L1024,503 L1019.5,477.3 L1014.3,452.6 L1008.3,429 L1001.7,406.5 L994.3,385.2 L986.2,365.1 L977.4,346.4 L968,328.9 L958,312.9 L947.4,298.4 L936.2,285.3 L924.5,273.8 L912.3,263.8 L899.6,255.4 L886.5,248.5 L873,243.4 L859.1,239.8Z" stroke="#ff0a14" stroke-width="6.2"/>
<path d="M129,839.4 L129.2,844.9 L129.7,850.4 L130.7,855.9 L132.1,861.4 L134,866.9 L136.2,872.3 L138.9,877.8 L142,883.2 L145.5,888.6 L149.4,894 L153.7,899.3 L158.5,904.6 L163.6,909.9 L169.1,915.1 L175,920.2 L181.4,925.4 L188.1,930.4 L195.2,935.4 L202.6,940.4 L210.4,945.3 L218.6,950.1 L227.2,954.8 L236.1,959.5 L245.4,964.1 L255,968.6 L264.9,973 L275.2,977.3 L285.8,981.6 L296.7,985.8 L307.9,989.8 L319.5,993.8 L331.3,997.6 L343.4,1001.4 L355.7,1005 L368.4,1008.6 L381.3,1012 L394.4,1015.3 L407.8,1018.5 L421.4,1021.6 L435.3,1024.6 L449.3,1027.4 L463.6,1030.1 L478,1032.7 L492.6,1035.2 L507.5,1037.5 L522.4,1039.7 L537.5,1041.8 L552.8,1043.7 L568.2,1045.5 L583.7,1047.2 L599.3,1048.7 L615.1,1050.1 L630.9,1051.3 L646.8,1052.5 L662.8,1053.4 L678.8,1054.2 L694.8,1054.9 L710.9,1055.5 L727.1,1055.9 L743.2,1056.1 L759.3,1056.2 L775.5,1056.2 L791.6,1056 L807.7,1055.7 L823.7,1055.2 L839.7,1054.6 L855.6,1053.8 L871.4,1052.9 L887.2,1051.9 L902.8,1050.7 L918.4,1049.4 L933.8,1047.9 L949.1,1046.3 L964.3,1044.6 L979.3,1042.7 L994.2,1040.7 L1008.8,1038.6 L1023.3,1036.3 L1037.6,1033.9 L1051.8,1031.4 L1065.7,1028.7 L1079.3,1025.9 L1092.8,1023 L1106,1020 L1119,1016.9 L1131.7,1013.6 L1144.1,1010.2 L1156.3,1006.7 L1168.2,1003.1 L1179.8,999.4 L1191.1,995.6 L1202.1,991.7 L1212.8,987.7 L1223.2,983.6 L1233.2,979.4 L1242.9,975.1 L1252.3,970.7 L1261.3,966.2 L1270,961.7 L1278.3,957 L1286.2,952.3 L1293.8,947.6 L1301,942.7 L1307.8,937.8 L1314.2,932.8 L1320.2,927.8 L1325.9,922.7 L1331.1,917.5 L1336,912.3 L1340.4,907.1 L1344.4,901.8 L1348,896.5 L1351.3,891.1 L1354.1,885.8 L1356.4,880.3 L1358.4,874.9 L1359.9,869.4 L1361,864 L1361.7,858.5 L1362,853" stroke="#00d800" stroke-width="6.2"/>
<line x1="446" y1="1029.5" x2="398" y2="1059" stroke="#4242ff" stroke-width="7"/>
<path d="M362,1081 L384,1052 Q397,1049 407,1056 L403,1079 Q382,1084 362,1081Z" fill="#4242ff" stroke="none"/>
<line x1="438" y1="1051.5" x2="528" y2="1066.5" stroke="#78838a" stroke-width="7.5"/>
<path d="M571.5,1073 L524,1055.5 L522.5,1084Z" fill="#707a80" stroke="none"/>
<path d="M1341,957 L1341,870 Q1340,858 1336,846" stroke="#8c8c8c" stroke-width="7"/>
<path d="M1326,793 Q1336,822 1348,851 L1316,851 Q1321,822 1326,793Z" fill="#6c6c6c" stroke="none"/>
</g>
<g filter="url(#bt)" font-family="'Liberation Mono',monospace" font-weight="bold" text-anchor="middle">
<text x="766" y="64.6" font-size="40" fill="#5a5a5a" style="font-family:'Liberation Mono',monospace">y</text>
<text x="1491" y="989.6" font-size="40" fill="#6a6a6a" style="font-family:'Liberation Mono',monospace">x</text>
<text x="354" y="1095.3" font-size="40" fill="#6a6a6a" style="font-family:'Liberation Mono',monospace">z</text>
<text x="1410" y="788" font-size="35" fill="#868686" textLength="62" lengthAdjust="spacingAndGlyphs" style="font-family:'Liberation Mono',monospace">Phi</text>
<text x="625.5" y="1095" font-size="37.5" fill="#3c2410" fill-opacity="0.9" textLength="106" lengthAdjust="spacingAndGlyphs" style="font-family:'Liberation Mono',monospace">Theta</text>
</g>
<text transform="translate(792.1,1573.0) scale(0.8,1)" font-size="76" style="font-family:'Liberation Serif',serif">(</text><text x="815.5" y="1574.2" font-size="73" font-weight="bold" style="font-family:'Liberation Serif',serif">c</text><text transform="translate(850.0,1573.0) scale(0.8,1)" font-size="76" style="font-family:'Liberation Serif',serif">)</text>
<text transform="translate(785.2,3010.3) scale(0.8,1)" font-size="76" style="font-family:'Liberation Serif',serif">(</text><text x="808.5" y="3011.5" font-size="73" font-weight="bold" style="font-family:'Liberation Serif',serif">d</text><text transform="translate(857.0,3010.3) scale(0.8,1)" font-size="76" style="font-family:'Liberation Serif',serif">)</text>
<g shape-rendering="crispEdges" stroke="#000" fill="none">
<g clip-path="url(#pc)">
<path d="M224.1,2640.5 L235.5,2640.5 L229,2631.9 L226.9,2606.2 L229,2565.3 L230.1,2520.2 L234.4,2488 L235.5,2455.7 L238.7,2427.8 L239.8,2403.1 L243,2387 L244.1,2371.9 L250.5,2366.5 L253.7,2361.2 L254.8,2380.5 L260.2,2394.5 L263.4,2369.8 L266.6,2350.4 L269.8,2333.2 L273.1,2320.3 L276.3,2301 L280.6,2286 L284.2,2278.4 L288.1,2294.6 L290.3,2320.3 L294.6,2337.5 L296.7,2359 L299.9,2378.4 L302.1,2397.7 L304.2,2425.6 L304.2,2479.4 L305.3,2565.3 L308.5,2629.8 L308.5,2750.1 L313.9,2700.7 L312.8,2586.8 L313.9,2483.7 L317.1,2445 L321.4,2464.3 L324.6,2498.7 L328.9,2511.6 L331.1,2537.4 L336.5,2536.3 L328.9,2548.1 L323.6,2551.4 L331.1,2569.6 L334.3,2582.5 L339.7,2543.8 L347.2,2541.7 L350.4,2552.4 L344,2565.3 L342.9,2621.2 L347.2,2672.8 L348.3,2709.3 L352.6,2668.5 L351.5,2561 L354.7,2557.8 L360.1,2584.7 L361.2,2651.3 L362.2,2750.1 L365.5,2715.8 L365.5,2608.3 L370.8,2593.3 L373,2608.3 L371.9,2668.5 L375.1,2715.8 L381.6,2750.1 L383.7,2690 L381.6,2621.2 L384.8,2597.6 L389.1,2584.7 L390.2,2608.3 L394.5,2593.3 L399.9,2616.9 L399.9,2582.5 L404.2,2573.9 L404.2,2477.2 L406.3,2475.1 L409.5,2505.2 L414.9,2500.9 L417,2552.4 L421.3,2488 L425.6,2518.1 L429.9,2561 L434.2,2481.5 L440.7,2479.4 L443.9,2522.3 L449.3,2548.1 L455.7,2522.3 L460,2460 L463.9,2456.8 L465.4,2492.3 L475.1,2488 L477.2,2535.2 L480.4,2483.7 L486.9,2505.2 L493.3,2518.1 L498.7,2535.2 L498.3,2538.4 L501.5,2562 L504.7,2529.8 L509,2521.2 L512.2,2590 L517.6,2596.4 L521.9,2600.7 L525.1,2551.3 L526.2,2508.3 L530.5,2547 L536.9,2549.1 L542.3,2527.7 L546.6,2508.3 L549.8,2482.5 L554.1,2491.1 L558.4,2465.3 L560.6,2448.1 L562.7,2437.4 L576.7,2418.1 L578.9,2400.9 L583.2,2379.4 L589.6,2368.6 L592.8,2347.1 L599.3,2336.4 L600.3,2314.9 L607.9,2306.3 L613.2,2284.8 L618.6,2267.6 L626.1,2259 L630.4,2241.8 L639,2228.9 L643.3,2216 L654.1,2209.6 L664.8,2201 L676.6,2194.6 L688.5,2211.7 L697,2224.6 L705.6,2237.5 L711,2254.7 L714.2,2282.7 L725,2293.4 L731.4,2306.3 L735.7,2336.4 L736.8,2366.5 L741.1,2390.1 L744.3,2411.6 L748.6,2443.8 L749.7,2480.4 L754,2508.3 L756.1,2523.4 L761.5,2551.3 L762.6,2570.6 L765.8,2594.3 L766.9,2624.4 L765.8,2622.8 L770.1,2644.3 L772.2,2683 L774.4,2665.8 L778.7,2633.5 L779.8,2601.3 L786.2,2590.5 L787.7,2558.3 L787.7,2511 L789.9,2496 L792,2480.9 L792.7,2438 L800.2,2429.4 L800.8,2373.5 L805.5,2364.9 L805.5,2311.2 L809.8,2304.7 L814.1,2278.9 L814.1,2225.2 L818.4,2220.9 L818.4,2150 L820.6,2134.3 L824.5,2074.1 L829.2,2044 L833.5,2024.7 L837.8,1994.6 L842.3,1943 L846.6,1904.3 L850.9,1863.5 L855.2,1839.9 L859.5,1820.5 L864.2,1799 L868.1,1781.8 L872.8,1764.6 L877.1,1747.4 L881.4,1734.6 L886.1,1721.7 L890.7,1706.6 L894.3,1693.7 L902.9,1688.4 L923.3,1695.9 L931.9,1708.8 L944.8,1719.5 L949.5,1732.4 L953.8,1747.4 L957.7,1762.5 L964.2,1781.8 L970.6,1794.7 L974.9,1811.9 L979.6,1827 L983.9,1852.8 L988.4,1878.5 L992.7,1900 L997,1919.4 L1001.3,1951.6 L1005.6,1988.1 L1009.9,2024.7 L1014.2,2061.2 L1016.8,2089.1 L1019,2108.5 L1023.3,2138.6 L1027.6,2177.2 L1027.9,2203.7 L1032.2,2220.9 L1036.1,2227.4 L1036.5,2278.9 L1040.8,2283.2 L1040.8,2321.9 L1047.3,2317.6 L1048.4,2334.8 L1053.7,2343.4 L1053.7,2401.4 L1058,2364.9 L1062.3,2364.9 L1064.5,2403.6 L1070.9,2390.7 L1075.2,2392.8 L1075.2,2433.7 L1080.6,2416.5 L1084.9,2420.8 L1088.1,2463.8 L1093.5,2438 L1097.8,2455.2 L1101,2474.5 L1107.4,2487.4 L1112.8,2468.1 L1113.9,2453 L1120.3,2448.7 L1123.6,2448.7 L1123.6,2418.6 L1122.5,2403.6 L1131.1,2403.6 L1136.5,2386.4 L1137.5,2371.3 L1146.1,2371.3 L1150.4,2360.6 L1159,2352 L1167.6,2347.7 L1173.6,2339.1 L1169.8,2377.8 L1165.5,2373.5 L1171.9,2356.3 L1182.7,2360.6 L1183.7,2386.4 L1189.1,2395 L1193.4,2364.9 L1194.5,2395 L1199.9,2405.7 L1206.3,2410 L1207.4,2427.2 L1211.7,2446.6 L1217,2448.7 L1220.3,2465.9 L1224.6,2472.3 L1227.8,2483.1 L1228.2,2515.3 L1234.2,2519.6 L1235.3,2530.4 L1240.7,2532.5 L1241.8,2547.6 L1247.1,2551.9 L1236.4,2562.6 L1237.5,2571.2 L1247.1,2573.4 L1251.4,2581.9 L1255.7,2588.4 L1257.9,2622.8 L1264.3,2637.8 L1269.7,2609.9 L1272.9,2618.5 L1276.1,2650.7 L1279.4,2627.1 L1285.8,2624.9 L1289,2661.5 L1294.4,2700.1 L1297.6,2592.7 L1297.5,2593.3 L1301.8,2619.1 L1302.9,2672.8 L1306.1,2621.2 L1310.4,2606.2 L1315.8,2610.5 L1320.1,2621.2 L1323.3,2634.1 L1327.6,2629.8 L1331.9,2614.8 L1336.2,2621.2 L1337.3,2563.2 L1341.6,2586.8 L1341.6,2679.2 L1345.9,2591.1 L1350.2,2608.3 L1352.3,2690 L1356.6,2662 L1358.8,2685.7 L1359.2,2735.1" stroke-width="9.6" stroke-linejoin="miter" stroke-miterlimit="2"/>
<path d="M1405,2735.1 L1409.3,2694.3 L1414.6,2677.1 L1418.9,2586.8 L1423.2,2543.8 L1429.7,2561 L1431.8,2597.6 L1430.8,2657.7 L1436.1,2715.8 L1440.4,2627.7 L1442.6,2735.1 L1446.9,2642.7 L1449,2735.1 L1453.3,2698.6 L1456.5,2735.1 L1459.8,2694.3 L1461.9,2735.1 L1463,2659.9 L1468.4,2681.4 L1466.2,2735.1 L1472.7,2657.7 L1474.8,2735.1 L1479.1,2657.7 L1481.3,2735.1 L1484.5,2659.9 L1486.6,2705 L1489.9,2694.3 L1490.9,2629.8 L1493.1,2530.9 L1497.4,2494.4 L1502.8,2488 L1504.9,2565.3 L1509.2,2584.7 L1513.5,2513.8 L1515.6,2477.2 L1518.9,2447.1 L1524.2,2438.5 L1526.4,2468.6 L1532.8,2472.9 L1535,2543.8 L1539.3,2597.6 L1544.7,2543.8 L1546.8,2460 L1551.1,2412.8 L1555.4,2399.9 L1559.7,2414.9 L1564,2483.7 L1568.3,2556.7 L1572.6,2636.2 L1575.8,2683.5 L1582.3,2672.8" stroke-width="9.6" stroke-linejoin="miter" stroke-miterlimit="2"/>
<path d="M344,2586.8 L348.3,2683.5 L354.7,2586.8 L359,2694.3 L365.5,2608.3 L371.9,2683.5 L378.4,2619.1 L384.8,2672.8 L389.1,2608.3" stroke-width="9.6" stroke-linejoin="miter" stroke-miterlimit="2"/>
<path d="M402,2522.3 L407.4,2543.8 L412.8,2511.6 L417,2543.8 L423.5,2522.3 L427.8,2548.1 L436.4,2511.6 L442.8,2543.8 L449.3,2522.3 L457.9,2535.2 L466.5,2505.2 L472.9,2526.6 L479.4,2511.6 L485.8,2522.3" stroke-width="9.6" stroke-linejoin="miter" stroke-miterlimit="2"/>
<path d="M500.4,2540.5 L505.8,2572.8 L510.1,2529.8 L514.4,2590 L520.8,2540.5 L523,2594.3" stroke-width="9.6" stroke-linejoin="miter" stroke-miterlimit="2"/>
<path d="M212.7,2629.8 L220.9,2629.8 L220.9,2626.4 L226.1,2626.4 L226.1,2629.8 L234.3,2629.8 L234.3,2638 L238.7,2638 L238.7,2643.2 L234.3,2643.2 L234.3,2651.4 L226.1,2651.4 L226.1,2654.8 L220.9,2654.8 L220.9,2651.4 L212.7,2651.4 L212.7,2643.2 L208.3,2643.2 L208.3,2638 L212.7,2638Z" fill="#000" stroke="none"/>
<path d="M326.1,2533.1 L334.3,2533.1 L334.3,2529.7 L339.5,2529.7 L339.5,2533.1 L347.7,2533.1 L347.7,2541.3 L352.1,2541.3 L352.1,2546.5 L347.7,2546.5 L347.7,2554.7 L339.5,2554.7 L339.5,2558.1 L334.3,2558.1 L334.3,2554.7 L326.1,2554.7 L326.1,2546.5 L321.7,2546.5 L321.7,2541.3 L326.1,2541.3Z" fill="#000" stroke="none"/>
<path d="M439.2,2511.2 L447.4,2511.2 L447.4,2507.8 L452.6,2507.8 L452.6,2511.2 L460.8,2511.2 L460.8,2519.4 L465.2,2519.4 L465.2,2524.6 L460.8,2524.6 L460.8,2532.8 L452.6,2532.8 L452.6,2536.2 L447.4,2536.2 L447.4,2532.8 L439.2,2532.8 L439.2,2524.6 L434.8,2524.6 L434.8,2519.4 L439.2,2519.4Z" fill="#000" stroke="none"/>
<path d="M551.9,2426.6 L560.1,2426.6 L560.1,2423.2 L565.3,2423.2 L565.3,2426.6 L573.5,2426.6 L573.5,2434.8 L577.9,2434.8 L577.9,2440 L573.5,2440 L573.5,2448.2 L565.3,2448.2 L565.3,2451.6 L560.1,2451.6 L560.1,2448.2 L551.9,2448.2 L551.9,2440 L547.5,2440 L547.5,2434.8 L551.9,2434.8Z" fill="#000" stroke="none"/>
<path d="M665.8,2188.1 L674,2188.1 L674,2184.7 L679.2,2184.7 L679.2,2188.1 L687.4,2188.1 L687.4,2196.3 L691.8,2196.3 L691.8,2201.5 L687.4,2201.5 L687.4,2209.7 L679.2,2209.7 L679.2,2213.1 L674,2213.1 L674,2209.7 L665.8,2209.7 L665.8,2201.5 L661.4,2201.5 L661.4,2196.3 L665.8,2196.3Z" fill="#000" stroke="none"/>
<path d="M779.1,2485.2 L787.3,2485.2 L787.3,2481.8 L792.5,2481.8 L792.5,2485.2 L800.7,2485.2 L800.7,2493.4 L805.1,2493.4 L805.1,2498.6 L800.7,2498.6 L800.7,2506.8 L792.5,2506.8 L792.5,2510.2 L787.3,2510.2 L787.3,2506.8 L779.1,2506.8 L779.1,2498.6 L774.7,2498.6 L774.7,2493.4 L779.1,2493.4Z" fill="#000" stroke="none"/>
<path d="M892.1,1677.6 L900.3,1677.6 L900.3,1674.2 L905.5,1674.2 L905.5,1677.6 L913.7,1677.6 L913.7,1685.8 L918.1,1685.8 L918.1,1691 L913.7,1691 L913.7,1699.2 L905.5,1699.2 L905.5,1702.6 L900.3,1702.6 L900.3,1699.2 L892.1,1699.2 L892.1,1691 L887.7,1691 L887.7,1685.8 L892.1,1685.8Z" fill="#000" stroke="none"/>
<path d="M1006,2078.2 L1014.2,2078.2 L1014.2,2074.8 L1019.4,2074.8 L1019.4,2078.2 L1027.6,2078.2 L1027.6,2086.4 L1032,2086.4 L1032,2091.6 L1027.6,2091.6 L1027.6,2099.8 L1019.4,2099.8 L1019.4,2103.2 L1014.2,2103.2 L1014.2,2099.8 L1006,2099.8 L1006,2091.6 L1001.6,2091.6 L1001.6,2086.4 L1006,2086.4Z" fill="#000" stroke="none"/>
<path d="M1120.2,2392.8 L1128.4,2392.8 L1128.4,2389.4 L1133.6,2389.4 L1133.6,2392.8 L1141.8,2392.8 L1141.8,2401 L1146.2,2401 L1146.2,2406.2 L1141.8,2406.2 L1141.8,2414.4 L1133.6,2414.4 L1133.6,2417.8 L1128.4,2417.8 L1128.4,2414.4 L1120.2,2414.4 L1120.2,2406.2 L1115.8,2406.2 L1115.8,2401 L1120.2,2401Z" fill="#000" stroke="none"/>
<path d="M1232,2552.2 L1240.2,2552.2 L1240.2,2548.8 L1245.4,2548.8 L1245.4,2552.2 L1253.6,2552.2 L1253.6,2560.4 L1258,2560.4 L1258,2565.6 L1253.6,2565.6 L1253.6,2573.8 L1245.4,2573.8 L1245.4,2577.2 L1240.2,2577.2 L1240.2,2573.8 L1232,2573.8 L1232,2565.6 L1227.6,2565.6 L1227.6,2560.4 L1232,2560.4Z" fill="#000" stroke="none"/>
<path d="M1345.2,2674.2 L1353.4,2674.2 L1353.4,2670.8 L1358.6,2670.8 L1358.6,2674.2 L1366.8,2674.2 L1366.8,2682.4 L1371.2,2682.4 L1371.2,2687.6 L1366.8,2687.6 L1366.8,2695.8 L1358.6,2695.8 L1358.6,2699.2 L1353.4,2699.2 L1353.4,2695.8 L1345.2,2695.8 L1345.2,2687.6 L1340.8,2687.6 L1340.8,2682.4 L1345.2,2682.4Z" fill="#000" stroke="none"/>
<path d="M1458.4,2655.2 L1466.6,2655.2 L1466.6,2651.8 L1471.8,2651.8 L1471.8,2655.2 L1480,2655.2 L1480,2663.4 L1484.4,2663.4 L1484.4,2668.6 L1480,2668.6 L1480,2676.8 L1471.8,2676.8 L1471.8,2680.2 L1466.6,2680.2 L1466.6,2676.8 L1458.4,2676.8 L1458.4,2668.6 L1454,2668.6 L1454,2663.4 L1458.4,2663.4Z" fill="#000" stroke="none"/>
<path d="M1571.7,2662.2 L1579.9,2662.2 L1579.9,2658.8 L1585.1,2658.8 L1585.1,2662.2 L1593.3,2662.2 L1593.3,2670.4 L1597.7,2670.4 L1597.7,2675.6 L1593.3,2675.6 L1593.3,2683.8 L1585.1,2683.8 L1585.1,2687.2 L1579.9,2687.2 L1579.9,2683.8 L1571.7,2683.8 L1571.7,2675.6 L1567.3,2675.6 L1567.3,2670.4 L1571.7,2670.4Z" fill="#000" stroke="none"/>
</g>
<path d="M204.0,1637.8 H1074 M223.5,1635.8 V2759.2 M204.0,2735.2 H1584.5 M1582.5,1707.8 V2759.2" stroke-width="4"/>
<rect x="1072.5" y="1632.6" width="510.5" height="78.5" fill="#fff" stroke-width="4"/>
<line x1="1080.6" y1="1674" x2="1214.8" y2="1674" stroke-width="9"/>
<path d="M1136.2,1663.2 L1144.4,1663.2 L1144.4,1659.8 L1149.6,1659.8 L1149.6,1663.2 L1157.8,1663.2 L1157.8,1671.4 L1162.2,1671.4 L1162.2,1676.6 L1157.8,1676.6 L1157.8,1684.8 L1149.6,1684.8 L1149.6,1688.2 L1144.4,1688.2 L1144.4,1684.8 L1136.2,1684.8 L1136.2,1676.6 L1131.8,1676.6 L1131.8,1671.4 L1136.2,1671.4Z" fill="#000" stroke="none"/>
<line x1="212.5" y1="1716.1" x2="223.5" y2="1716.1" stroke-width="4"/>
<line x1="204.0" y1="1794.5" x2="223.5" y2="1794.5" stroke-width="4"/>
<line x1="212.5" y1="1872.8" x2="223.5" y2="1872.8" stroke-width="4"/>
<line x1="204.0" y1="1951.2" x2="223.5" y2="1951.2" stroke-width="4"/>
<line x1="212.5" y1="2029.6" x2="223.5" y2="2029.6" stroke-width="4"/>
<line x1="204.0" y1="2107.9" x2="223.5" y2="2107.9" stroke-width="4"/>
<line x1="212.5" y1="2186.3" x2="223.5" y2="2186.3" stroke-width="4"/>
<line x1="204.0" y1="2264.7" x2="223.5" y2="2264.7" stroke-width="4"/>
<line x1="212.5" y1="2343.1" x2="223.5" y2="2343.1" stroke-width="4"/>
<line x1="204.0" y1="2421.4" x2="223.5" y2="2421.4" stroke-width="4"/>
<line x1="212.5" y1="2499.8" x2="223.5" y2="2499.8" stroke-width="4"/>
<line x1="204.0" y1="2578.2" x2="223.5" y2="2578.2" stroke-width="4"/>
<line x1="212.5" y1="2656.6" x2="223.5" y2="2656.6" stroke-width="4"/>
<line x1="280.1" y1="2735.2" x2="280.1" y2="2746.7" stroke-width="4"/>
<line x1="336.8" y1="2735.2" x2="336.8" y2="2759.2" stroke-width="4"/>
<line x1="393.4" y1="2735.2" x2="393.4" y2="2746.7" stroke-width="4"/>
<line x1="450" y1="2735.2" x2="450" y2="2759.2" stroke-width="4"/>
<line x1="506.6" y1="2735.2" x2="506.6" y2="2746.7" stroke-width="4"/>
<line x1="563.2" y1="2735.2" x2="563.2" y2="2759.2" stroke-width="4"/>
<line x1="619.9" y1="2735.2" x2="619.9" y2="2746.7" stroke-width="4"/>
<line x1="676.5" y1="2735.2" x2="676.5" y2="2759.2" stroke-width="4"/>
<line x1="733.1" y1="2735.2" x2="733.1" y2="2746.7" stroke-width="4"/>
<line x1="789.8" y1="2735.2" x2="789.8" y2="2759.2" stroke-width="4"/>
<line x1="846.4" y1="2735.2" x2="846.4" y2="2746.7" stroke-width="4"/>
<line x1="903" y1="2735.2" x2="903" y2="2759.2" stroke-width="4"/>
<line x1="959.6" y1="2735.2" x2="959.6" y2="2746.7" stroke-width="4"/>
<line x1="1016.2" y1="2735.2" x2="1016.2" y2="2759.2" stroke-width="4"/>
<line x1="1072.9" y1="2735.2" x2="1072.9" y2="2746.7" stroke-width="4"/>
<line x1="1129.5" y1="2735.2" x2="1129.5" y2="2759.2" stroke-width="4"/>
<line x1="1186.1" y1="2735.2" x2="1186.1" y2="2746.7" stroke-width="4"/>
<line x1="1242.8" y1="2735.2" x2="1242.8" y2="2759.2" stroke-width="4"/>
<line x1="1299.4" y1="2735.2" x2="1299.4" y2="2746.7" stroke-width="4"/>
<line x1="1356" y1="2735.2" x2="1356" y2="2759.2" stroke-width="4"/>
<line x1="1412.6" y1="2735.2" x2="1412.6" y2="2746.7" stroke-width="4"/>
<line x1="1469.2" y1="2735.2" x2="1469.2" y2="2759.2" stroke-width="4"/>
<line x1="1525.9" y1="2735.2" x2="1525.9" y2="2746.7" stroke-width="4"/>
</g>
<g font-size="60" fill="#262626" stroke="#262626" stroke-width="1.4" stroke-linejoin="round" filter="url(#bt)" letter-spacing="-2.8">
<text x="180" y="1651.2" text-anchor="end">10</text>
<text x="180" y="1808" text-anchor="end">5</text>
<text x="180" y="1964.7" text-anchor="end">0</text>
<text x="180" y="2121.4" text-anchor="end">-5</text>
<text x="180" y="2278.2" text-anchor="end">-10</text>
<text x="180" y="2434.9" text-anchor="end">-15</text>
<text x="180" y="2591.7" text-anchor="end">-20</text>
<text x="180" y="2748.4" text-anchor="end">-25</text>
<text x="221.5" y="2816" text-anchor="middle">-180</text>
<text x="334.8" y="2816" text-anchor="middle">-150</text>
<text x="448" y="2816" text-anchor="middle">-120</text>
<text x="561.2" y="2816" text-anchor="middle">-90</text>
<text x="674.5" y="2816" text-anchor="middle">-60</text>
<text x="787.8" y="2816" text-anchor="middle">-30</text>
<text x="903" y="2816" text-anchor="middle">0</text>
<text x="1016.2" y="2816" text-anchor="middle">30</text>
<text x="1129.5" y="2816" text-anchor="middle">60</text>
<text x="1242.8" y="2816" text-anchor="middle">90</text>
<text x="1356" y="2816" text-anchor="middle">120</text>
<text x="1469.2" y="2816" text-anchor="middle">150</text>
<text x="1582.5" y="2816" text-anchor="middle">180</text>
</g>
<g filter="url(#bt)"><text x="1398" y="1691.5" font-size="58" fill="#1a1a2a" text-anchor="middle" textLength="346" lengthAdjust="spacingAndGlyphs">Measurement</text>
<text x="901" y="2912" font-size="59" fill="#444" text-anchor="middle">Pos.</text>
<text transform="translate(76.5,2184) rotate(-90)" font-size="59" fill="#444" text-anchor="middle" textLength="249" lengthAdjust="spacing">Gain [dBi]</text></g>
</svg></body></html>
